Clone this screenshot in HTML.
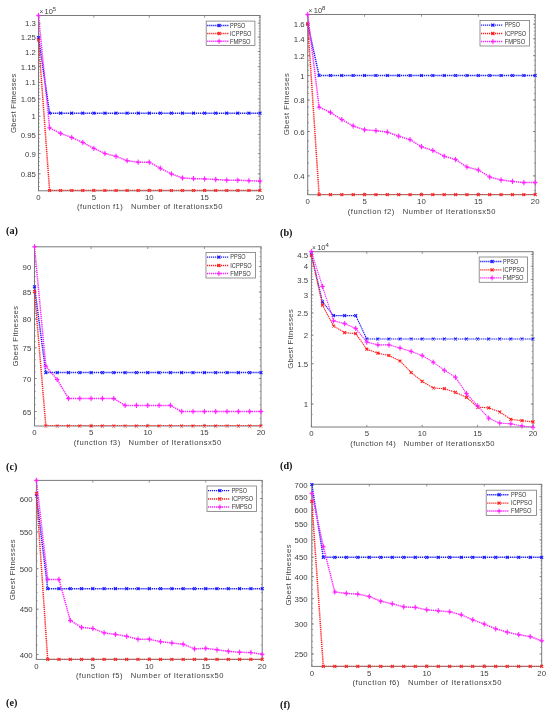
<!DOCTYPE html>
<html><head><meta charset="utf-8"><title>Figure</title>
<style>
html,body{margin:0;padding:0;background:#fff;}
body{width:550px;height:714px;overflow:hidden;}
svg{display:block;filter:blur(0.35px);}
text{font-family:"Liberation Sans",sans-serif;}
</style></head><body>
<svg width="550" height="714" viewBox="0 0 550 714">
<rect x="0" y="0" width="550" height="714" fill="#fff"/>
<clipPath id="c1"><rect x="38.50" y="15.50" width="221.50" height="175.30"/></clipPath>
<rect x="38.50" y="15.50" width="221.50" height="175.30" fill="none" stroke="#7a7a7a" stroke-width="1"/>
<line x1="38.50" y1="173.86" x2="40.70" y2="173.86" stroke="#7a7a7a" stroke-width="0.8" />
<line x1="260.00" y1="173.86" x2="257.80" y2="173.86" stroke="#7a7a7a" stroke-width="0.8" />
<text x="35.90" y="176.96" font-size="7.8" text-anchor="end" fill="#404040" >0.85</text>
<line x1="38.50" y1="153.58" x2="40.70" y2="153.58" stroke="#7a7a7a" stroke-width="0.8" />
<line x1="260.00" y1="153.58" x2="257.80" y2="153.58" stroke="#7a7a7a" stroke-width="0.8" />
<text x="35.90" y="156.68" font-size="7.8" text-anchor="end" fill="#404040" >0.9</text>
<line x1="38.50" y1="134.40" x2="40.70" y2="134.40" stroke="#7a7a7a" stroke-width="0.8" />
<line x1="260.00" y1="134.40" x2="257.80" y2="134.40" stroke="#7a7a7a" stroke-width="0.8" />
<text x="35.90" y="137.50" font-size="7.8" text-anchor="end" fill="#404040" >0.95</text>
<line x1="38.50" y1="116.20" x2="40.70" y2="116.20" stroke="#7a7a7a" stroke-width="0.8" />
<line x1="260.00" y1="116.20" x2="257.80" y2="116.20" stroke="#7a7a7a" stroke-width="0.8" />
<text x="35.90" y="119.30" font-size="7.8" text-anchor="end" fill="#404040" >1</text>
<line x1="38.50" y1="98.89" x2="40.70" y2="98.89" stroke="#7a7a7a" stroke-width="0.8" />
<line x1="260.00" y1="98.89" x2="257.80" y2="98.89" stroke="#7a7a7a" stroke-width="0.8" />
<text x="35.90" y="101.99" font-size="7.8" text-anchor="end" fill="#404040" >1.05</text>
<line x1="38.50" y1="82.38" x2="40.70" y2="82.38" stroke="#7a7a7a" stroke-width="0.8" />
<line x1="260.00" y1="82.38" x2="257.80" y2="82.38" stroke="#7a7a7a" stroke-width="0.8" />
<text x="35.90" y="85.48" font-size="7.8" text-anchor="end" fill="#404040" >1.1</text>
<line x1="38.50" y1="66.61" x2="40.70" y2="66.61" stroke="#7a7a7a" stroke-width="0.8" />
<line x1="260.00" y1="66.61" x2="257.80" y2="66.61" stroke="#7a7a7a" stroke-width="0.8" />
<text x="35.90" y="69.71" font-size="7.8" text-anchor="end" fill="#404040" >1.15</text>
<line x1="38.50" y1="51.51" x2="40.70" y2="51.51" stroke="#7a7a7a" stroke-width="0.8" />
<line x1="260.00" y1="51.51" x2="257.80" y2="51.51" stroke="#7a7a7a" stroke-width="0.8" />
<text x="35.90" y="54.61" font-size="7.8" text-anchor="end" fill="#404040" >1.2</text>
<line x1="38.50" y1="37.02" x2="40.70" y2="37.02" stroke="#7a7a7a" stroke-width="0.8" />
<line x1="260.00" y1="37.02" x2="257.80" y2="37.02" stroke="#7a7a7a" stroke-width="0.8" />
<text x="35.90" y="40.12" font-size="7.8" text-anchor="end" fill="#404040" >1.25</text>
<line x1="38.50" y1="23.11" x2="40.70" y2="23.11" stroke="#7a7a7a" stroke-width="0.8" />
<line x1="260.00" y1="23.11" x2="257.80" y2="23.11" stroke="#7a7a7a" stroke-width="0.8" />
<text x="35.90" y="26.21" font-size="7.8" text-anchor="end" fill="#404040" >1.3</text>
<line x1="38.50" y1="186.61" x2="39.80" y2="186.61" stroke="#7a7a7a" stroke-width="0.7" />
<line x1="260.00" y1="186.61" x2="258.70" y2="186.61" stroke="#7a7a7a" stroke-width="0.7" />
<line x1="38.50" y1="182.31" x2="39.80" y2="182.31" stroke="#7a7a7a" stroke-width="0.7" />
<line x1="260.00" y1="182.31" x2="258.70" y2="182.31" stroke="#7a7a7a" stroke-width="0.7" />
<line x1="38.50" y1="178.06" x2="39.80" y2="178.06" stroke="#7a7a7a" stroke-width="0.7" />
<line x1="260.00" y1="178.06" x2="258.70" y2="178.06" stroke="#7a7a7a" stroke-width="0.7" />
<line x1="38.50" y1="173.86" x2="39.80" y2="173.86" stroke="#7a7a7a" stroke-width="0.7" />
<line x1="260.00" y1="173.86" x2="258.70" y2="173.86" stroke="#7a7a7a" stroke-width="0.7" />
<line x1="38.50" y1="169.71" x2="39.80" y2="169.71" stroke="#7a7a7a" stroke-width="0.7" />
<line x1="260.00" y1="169.71" x2="258.70" y2="169.71" stroke="#7a7a7a" stroke-width="0.7" />
<line x1="38.50" y1="165.61" x2="39.80" y2="165.61" stroke="#7a7a7a" stroke-width="0.7" />
<line x1="260.00" y1="165.61" x2="258.70" y2="165.61" stroke="#7a7a7a" stroke-width="0.7" />
<line x1="38.50" y1="161.56" x2="39.80" y2="161.56" stroke="#7a7a7a" stroke-width="0.7" />
<line x1="260.00" y1="161.56" x2="258.70" y2="161.56" stroke="#7a7a7a" stroke-width="0.7" />
<line x1="38.50" y1="157.55" x2="39.80" y2="157.55" stroke="#7a7a7a" stroke-width="0.7" />
<line x1="260.00" y1="157.55" x2="258.70" y2="157.55" stroke="#7a7a7a" stroke-width="0.7" />
<line x1="38.50" y1="153.58" x2="39.80" y2="153.58" stroke="#7a7a7a" stroke-width="0.7" />
<line x1="260.00" y1="153.58" x2="258.70" y2="153.58" stroke="#7a7a7a" stroke-width="0.7" />
<line x1="38.50" y1="149.66" x2="39.80" y2="149.66" stroke="#7a7a7a" stroke-width="0.7" />
<line x1="260.00" y1="149.66" x2="258.70" y2="149.66" stroke="#7a7a7a" stroke-width="0.7" />
<line x1="38.50" y1="145.79" x2="39.80" y2="145.79" stroke="#7a7a7a" stroke-width="0.7" />
<line x1="260.00" y1="145.79" x2="258.70" y2="145.79" stroke="#7a7a7a" stroke-width="0.7" />
<line x1="38.50" y1="141.95" x2="39.80" y2="141.95" stroke="#7a7a7a" stroke-width="0.7" />
<line x1="260.00" y1="141.95" x2="258.70" y2="141.95" stroke="#7a7a7a" stroke-width="0.7" />
<line x1="38.50" y1="138.15" x2="39.80" y2="138.15" stroke="#7a7a7a" stroke-width="0.7" />
<line x1="260.00" y1="138.15" x2="258.70" y2="138.15" stroke="#7a7a7a" stroke-width="0.7" />
<line x1="38.50" y1="134.40" x2="39.80" y2="134.40" stroke="#7a7a7a" stroke-width="0.7" />
<line x1="260.00" y1="134.40" x2="258.70" y2="134.40" stroke="#7a7a7a" stroke-width="0.7" />
<line x1="38.50" y1="130.68" x2="39.80" y2="130.68" stroke="#7a7a7a" stroke-width="0.7" />
<line x1="260.00" y1="130.68" x2="258.70" y2="130.68" stroke="#7a7a7a" stroke-width="0.7" />
<line x1="38.50" y1="127.01" x2="39.80" y2="127.01" stroke="#7a7a7a" stroke-width="0.7" />
<line x1="260.00" y1="127.01" x2="258.70" y2="127.01" stroke="#7a7a7a" stroke-width="0.7" />
<line x1="38.50" y1="123.37" x2="39.80" y2="123.37" stroke="#7a7a7a" stroke-width="0.7" />
<line x1="260.00" y1="123.37" x2="258.70" y2="123.37" stroke="#7a7a7a" stroke-width="0.7" />
<line x1="38.50" y1="119.77" x2="39.80" y2="119.77" stroke="#7a7a7a" stroke-width="0.7" />
<line x1="260.00" y1="119.77" x2="258.70" y2="119.77" stroke="#7a7a7a" stroke-width="0.7" />
<line x1="38.50" y1="116.20" x2="39.80" y2="116.20" stroke="#7a7a7a" stroke-width="0.7" />
<line x1="260.00" y1="116.20" x2="258.70" y2="116.20" stroke="#7a7a7a" stroke-width="0.7" />
<line x1="38.50" y1="112.67" x2="39.80" y2="112.67" stroke="#7a7a7a" stroke-width="0.7" />
<line x1="260.00" y1="112.67" x2="258.70" y2="112.67" stroke="#7a7a7a" stroke-width="0.7" />
<line x1="38.50" y1="109.17" x2="39.80" y2="109.17" stroke="#7a7a7a" stroke-width="0.7" />
<line x1="260.00" y1="109.17" x2="258.70" y2="109.17" stroke="#7a7a7a" stroke-width="0.7" />
<line x1="38.50" y1="105.71" x2="39.80" y2="105.71" stroke="#7a7a7a" stroke-width="0.7" />
<line x1="260.00" y1="105.71" x2="258.70" y2="105.71" stroke="#7a7a7a" stroke-width="0.7" />
<line x1="38.50" y1="102.28" x2="39.80" y2="102.28" stroke="#7a7a7a" stroke-width="0.7" />
<line x1="260.00" y1="102.28" x2="258.70" y2="102.28" stroke="#7a7a7a" stroke-width="0.7" />
<line x1="38.50" y1="98.89" x2="39.80" y2="98.89" stroke="#7a7a7a" stroke-width="0.7" />
<line x1="260.00" y1="98.89" x2="258.70" y2="98.89" stroke="#7a7a7a" stroke-width="0.7" />
<line x1="38.50" y1="95.53" x2="39.80" y2="95.53" stroke="#7a7a7a" stroke-width="0.7" />
<line x1="260.00" y1="95.53" x2="258.70" y2="95.53" stroke="#7a7a7a" stroke-width="0.7" />
<line x1="38.50" y1="92.19" x2="39.80" y2="92.19" stroke="#7a7a7a" stroke-width="0.7" />
<line x1="260.00" y1="92.19" x2="258.70" y2="92.19" stroke="#7a7a7a" stroke-width="0.7" />
<line x1="38.50" y1="88.89" x2="39.80" y2="88.89" stroke="#7a7a7a" stroke-width="0.7" />
<line x1="260.00" y1="88.89" x2="258.70" y2="88.89" stroke="#7a7a7a" stroke-width="0.7" />
<line x1="38.50" y1="85.62" x2="39.80" y2="85.62" stroke="#7a7a7a" stroke-width="0.7" />
<line x1="260.00" y1="85.62" x2="258.70" y2="85.62" stroke="#7a7a7a" stroke-width="0.7" />
<line x1="38.50" y1="82.38" x2="39.80" y2="82.38" stroke="#7a7a7a" stroke-width="0.7" />
<line x1="260.00" y1="82.38" x2="258.70" y2="82.38" stroke="#7a7a7a" stroke-width="0.7" />
<line x1="38.50" y1="79.17" x2="39.80" y2="79.17" stroke="#7a7a7a" stroke-width="0.7" />
<line x1="260.00" y1="79.17" x2="258.70" y2="79.17" stroke="#7a7a7a" stroke-width="0.7" />
<line x1="38.50" y1="75.99" x2="39.80" y2="75.99" stroke="#7a7a7a" stroke-width="0.7" />
<line x1="260.00" y1="75.99" x2="258.70" y2="75.99" stroke="#7a7a7a" stroke-width="0.7" />
<line x1="38.50" y1="72.83" x2="39.80" y2="72.83" stroke="#7a7a7a" stroke-width="0.7" />
<line x1="260.00" y1="72.83" x2="258.70" y2="72.83" stroke="#7a7a7a" stroke-width="0.7" />
<line x1="38.50" y1="69.71" x2="39.80" y2="69.71" stroke="#7a7a7a" stroke-width="0.7" />
<line x1="260.00" y1="69.71" x2="258.70" y2="69.71" stroke="#7a7a7a" stroke-width="0.7" />
<line x1="38.50" y1="66.61" x2="39.80" y2="66.61" stroke="#7a7a7a" stroke-width="0.7" />
<line x1="260.00" y1="66.61" x2="258.70" y2="66.61" stroke="#7a7a7a" stroke-width="0.7" />
<line x1="38.50" y1="63.54" x2="39.80" y2="63.54" stroke="#7a7a7a" stroke-width="0.7" />
<line x1="260.00" y1="63.54" x2="258.70" y2="63.54" stroke="#7a7a7a" stroke-width="0.7" />
<line x1="38.50" y1="60.49" x2="39.80" y2="60.49" stroke="#7a7a7a" stroke-width="0.7" />
<line x1="260.00" y1="60.49" x2="258.70" y2="60.49" stroke="#7a7a7a" stroke-width="0.7" />
<line x1="38.50" y1="57.47" x2="39.80" y2="57.47" stroke="#7a7a7a" stroke-width="0.7" />
<line x1="260.00" y1="57.47" x2="258.70" y2="57.47" stroke="#7a7a7a" stroke-width="0.7" />
<line x1="38.50" y1="54.48" x2="39.80" y2="54.48" stroke="#7a7a7a" stroke-width="0.7" />
<line x1="260.00" y1="54.48" x2="258.70" y2="54.48" stroke="#7a7a7a" stroke-width="0.7" />
<line x1="38.50" y1="51.51" x2="39.80" y2="51.51" stroke="#7a7a7a" stroke-width="0.7" />
<line x1="260.00" y1="51.51" x2="258.70" y2="51.51" stroke="#7a7a7a" stroke-width="0.7" />
<line x1="38.50" y1="48.56" x2="39.80" y2="48.56" stroke="#7a7a7a" stroke-width="0.7" />
<line x1="260.00" y1="48.56" x2="258.70" y2="48.56" stroke="#7a7a7a" stroke-width="0.7" />
<line x1="38.50" y1="45.64" x2="39.80" y2="45.64" stroke="#7a7a7a" stroke-width="0.7" />
<line x1="260.00" y1="45.64" x2="258.70" y2="45.64" stroke="#7a7a7a" stroke-width="0.7" />
<line x1="38.50" y1="42.75" x2="39.80" y2="42.75" stroke="#7a7a7a" stroke-width="0.7" />
<line x1="260.00" y1="42.75" x2="258.70" y2="42.75" stroke="#7a7a7a" stroke-width="0.7" />
<line x1="38.50" y1="39.87" x2="39.80" y2="39.87" stroke="#7a7a7a" stroke-width="0.7" />
<line x1="260.00" y1="39.87" x2="258.70" y2="39.87" stroke="#7a7a7a" stroke-width="0.7" />
<line x1="38.50" y1="37.02" x2="39.80" y2="37.02" stroke="#7a7a7a" stroke-width="0.7" />
<line x1="260.00" y1="37.02" x2="258.70" y2="37.02" stroke="#7a7a7a" stroke-width="0.7" />
<line x1="38.50" y1="34.20" x2="39.80" y2="34.20" stroke="#7a7a7a" stroke-width="0.7" />
<line x1="260.00" y1="34.20" x2="258.70" y2="34.20" stroke="#7a7a7a" stroke-width="0.7" />
<line x1="38.50" y1="31.39" x2="39.80" y2="31.39" stroke="#7a7a7a" stroke-width="0.7" />
<line x1="260.00" y1="31.39" x2="258.70" y2="31.39" stroke="#7a7a7a" stroke-width="0.7" />
<line x1="38.50" y1="28.61" x2="39.80" y2="28.61" stroke="#7a7a7a" stroke-width="0.7" />
<line x1="260.00" y1="28.61" x2="258.70" y2="28.61" stroke="#7a7a7a" stroke-width="0.7" />
<line x1="38.50" y1="25.85" x2="39.80" y2="25.85" stroke="#7a7a7a" stroke-width="0.7" />
<line x1="260.00" y1="25.85" x2="258.70" y2="25.85" stroke="#7a7a7a" stroke-width="0.7" />
<line x1="38.50" y1="23.11" x2="39.80" y2="23.11" stroke="#7a7a7a" stroke-width="0.7" />
<line x1="260.00" y1="23.11" x2="258.70" y2="23.11" stroke="#7a7a7a" stroke-width="0.7" />
<line x1="38.50" y1="20.39" x2="39.80" y2="20.39" stroke="#7a7a7a" stroke-width="0.7" />
<line x1="260.00" y1="20.39" x2="258.70" y2="20.39" stroke="#7a7a7a" stroke-width="0.7" />
<line x1="38.50" y1="17.69" x2="39.80" y2="17.69" stroke="#7a7a7a" stroke-width="0.7" />
<line x1="260.00" y1="17.69" x2="258.70" y2="17.69" stroke="#7a7a7a" stroke-width="0.7" />
<line x1="38.50" y1="190.80" x2="38.50" y2="188.60" stroke="#7a7a7a" stroke-width="0.8" />
<line x1="38.50" y1="15.50" x2="38.50" y2="17.70" stroke="#7a7a7a" stroke-width="0.8" />
<text x="38.50" y="200.10" font-size="7.8" text-anchor="middle" fill="#404040" >0</text>
<line x1="93.88" y1="190.80" x2="93.88" y2="188.60" stroke="#7a7a7a" stroke-width="0.8" />
<line x1="93.88" y1="15.50" x2="93.88" y2="17.70" stroke="#7a7a7a" stroke-width="0.8" />
<text x="93.88" y="200.10" font-size="7.8" text-anchor="middle" fill="#404040" >5</text>
<line x1="149.25" y1="190.80" x2="149.25" y2="188.60" stroke="#7a7a7a" stroke-width="0.8" />
<line x1="149.25" y1="15.50" x2="149.25" y2="17.70" stroke="#7a7a7a" stroke-width="0.8" />
<text x="149.25" y="200.10" font-size="7.8" text-anchor="middle" fill="#404040" >10</text>
<line x1="204.62" y1="190.80" x2="204.62" y2="188.60" stroke="#7a7a7a" stroke-width="0.8" />
<line x1="204.62" y1="15.50" x2="204.62" y2="17.70" stroke="#7a7a7a" stroke-width="0.8" />
<text x="204.62" y="200.10" font-size="7.8" text-anchor="middle" fill="#404040" >15</text>
<line x1="260.00" y1="190.80" x2="260.00" y2="188.60" stroke="#7a7a7a" stroke-width="0.8" />
<line x1="260.00" y1="15.50" x2="260.00" y2="17.70" stroke="#7a7a7a" stroke-width="0.8" />
<text x="260.00" y="200.10" font-size="7.8" text-anchor="middle" fill="#404040" >20</text>
<path d="M38.50 37.60L49.58 113.20L60.65 113.20L71.72 113.20L82.80 113.20L93.88 113.20L104.95 113.20L116.03 113.20L127.10 113.20L138.18 113.20L149.25 113.20L160.32 113.20L171.40 113.20L182.47 113.20L193.55 113.20L204.62 113.20L215.70 113.20L226.78 113.20L237.85 113.20L248.93 113.20L260.00 113.20" stroke="#1a1aff" stroke-width="1.5" fill="none" stroke-dasharray="1.3 0.8" clip-path="url(#c1)"/>
<path d="M37.05 36.15L39.95 39.05M37.05 39.05L39.95 36.15" stroke="#1a1aff" stroke-width="1.1" fill="none"/>
<path d="M48.12 111.75L51.03 114.65M48.12 114.65L51.03 111.75" stroke="#1a1aff" stroke-width="1.1" fill="none"/>
<path d="M59.20 111.75L62.10 114.65M59.20 114.65L62.10 111.75" stroke="#1a1aff" stroke-width="1.1" fill="none"/>
<path d="M70.27 111.75L73.17 114.65M70.27 114.65L73.17 111.75" stroke="#1a1aff" stroke-width="1.1" fill="none"/>
<path d="M81.35 111.75L84.25 114.65M81.35 114.65L84.25 111.75" stroke="#1a1aff" stroke-width="1.1" fill="none"/>
<path d="M92.42 111.75L95.33 114.65M92.42 114.65L95.33 111.75" stroke="#1a1aff" stroke-width="1.1" fill="none"/>
<path d="M103.50 111.75L106.40 114.65M103.50 114.65L106.40 111.75" stroke="#1a1aff" stroke-width="1.1" fill="none"/>
<path d="M114.58 111.75L117.48 114.65M114.58 114.65L117.48 111.75" stroke="#1a1aff" stroke-width="1.1" fill="none"/>
<path d="M125.65 111.75L128.55 114.65M125.65 114.65L128.55 111.75" stroke="#1a1aff" stroke-width="1.1" fill="none"/>
<path d="M136.73 111.75L139.62 114.65M136.73 114.65L139.62 111.75" stroke="#1a1aff" stroke-width="1.1" fill="none"/>
<path d="M147.80 111.75L150.70 114.65M147.80 114.65L150.70 111.75" stroke="#1a1aff" stroke-width="1.1" fill="none"/>
<path d="M158.88 111.75L161.77 114.65M158.88 114.65L161.77 111.75" stroke="#1a1aff" stroke-width="1.1" fill="none"/>
<path d="M169.95 111.75L172.85 114.65M169.95 114.65L172.85 111.75" stroke="#1a1aff" stroke-width="1.1" fill="none"/>
<path d="M181.03 111.75L183.92 114.65M181.03 114.65L183.92 111.75" stroke="#1a1aff" stroke-width="1.1" fill="none"/>
<path d="M192.10 111.75L195.00 114.65M192.10 114.65L195.00 111.75" stroke="#1a1aff" stroke-width="1.1" fill="none"/>
<path d="M203.18 111.75L206.07 114.65M203.18 114.65L206.07 111.75" stroke="#1a1aff" stroke-width="1.1" fill="none"/>
<path d="M214.25 111.75L217.15 114.65M214.25 114.65L217.15 111.75" stroke="#1a1aff" stroke-width="1.1" fill="none"/>
<path d="M225.33 111.75L228.22 114.65M225.33 114.65L228.22 111.75" stroke="#1a1aff" stroke-width="1.1" fill="none"/>
<path d="M236.40 111.75L239.30 114.65M236.40 114.65L239.30 111.75" stroke="#1a1aff" stroke-width="1.1" fill="none"/>
<path d="M247.48 111.75L250.38 114.65M247.48 114.65L250.38 111.75" stroke="#1a1aff" stroke-width="1.1" fill="none"/>
<path d="M258.55 111.75L261.45 114.65M258.55 114.65L261.45 111.75" stroke="#1a1aff" stroke-width="1.1" fill="none"/>
<path d="M38.50 40.00L49.58 190.50L60.65 190.50L71.72 190.50L82.80 190.50L93.88 190.50L104.95 190.50L116.03 190.50L127.10 190.50L138.18 190.50L149.25 190.50L160.32 190.50L171.40 190.50L182.47 190.50L193.55 190.50L204.62 190.50L215.70 190.50L226.78 190.50L237.85 190.50L248.93 190.50L260.00 190.50" stroke="#ff2020" stroke-width="1.5" fill="none" stroke-dasharray="1.3 0.8" clip-path="url(#c1)"/>
<path d="M37.05 38.55L39.95 41.45M37.05 41.45L39.95 38.55" stroke="#ff2020" stroke-width="1.1" fill="none"/>
<path d="M48.12 189.05L51.03 191.95M48.12 191.95L51.03 189.05" stroke="#ff2020" stroke-width="1.1" fill="none"/>
<path d="M59.20 189.05L62.10 191.95M59.20 191.95L62.10 189.05" stroke="#ff2020" stroke-width="1.1" fill="none"/>
<path d="M70.27 189.05L73.17 191.95M70.27 191.95L73.17 189.05" stroke="#ff2020" stroke-width="1.1" fill="none"/>
<path d="M81.35 189.05L84.25 191.95M81.35 191.95L84.25 189.05" stroke="#ff2020" stroke-width="1.1" fill="none"/>
<path d="M92.42 189.05L95.33 191.95M92.42 191.95L95.33 189.05" stroke="#ff2020" stroke-width="1.1" fill="none"/>
<path d="M103.50 189.05L106.40 191.95M103.50 191.95L106.40 189.05" stroke="#ff2020" stroke-width="1.1" fill="none"/>
<path d="M114.58 189.05L117.48 191.95M114.58 191.95L117.48 189.05" stroke="#ff2020" stroke-width="1.1" fill="none"/>
<path d="M125.65 189.05L128.55 191.95M125.65 191.95L128.55 189.05" stroke="#ff2020" stroke-width="1.1" fill="none"/>
<path d="M136.73 189.05L139.62 191.95M136.73 191.95L139.62 189.05" stroke="#ff2020" stroke-width="1.1" fill="none"/>
<path d="M147.80 189.05L150.70 191.95M147.80 191.95L150.70 189.05" stroke="#ff2020" stroke-width="1.1" fill="none"/>
<path d="M158.88 189.05L161.77 191.95M158.88 191.95L161.77 189.05" stroke="#ff2020" stroke-width="1.1" fill="none"/>
<path d="M169.95 189.05L172.85 191.95M169.95 191.95L172.85 189.05" stroke="#ff2020" stroke-width="1.1" fill="none"/>
<path d="M181.03 189.05L183.92 191.95M181.03 191.95L183.92 189.05" stroke="#ff2020" stroke-width="1.1" fill="none"/>
<path d="M192.10 189.05L195.00 191.95M192.10 191.95L195.00 189.05" stroke="#ff2020" stroke-width="1.1" fill="none"/>
<path d="M203.18 189.05L206.07 191.95M203.18 191.95L206.07 189.05" stroke="#ff2020" stroke-width="1.1" fill="none"/>
<path d="M214.25 189.05L217.15 191.95M214.25 191.95L217.15 189.05" stroke="#ff2020" stroke-width="1.1" fill="none"/>
<path d="M225.33 189.05L228.22 191.95M225.33 191.95L228.22 189.05" stroke="#ff2020" stroke-width="1.1" fill="none"/>
<path d="M236.40 189.05L239.30 191.95M236.40 191.95L239.30 189.05" stroke="#ff2020" stroke-width="1.1" fill="none"/>
<path d="M247.48 189.05L250.38 191.95M247.48 191.95L250.38 189.05" stroke="#ff2020" stroke-width="1.1" fill="none"/>
<path d="M258.55 189.05L261.45 191.95M258.55 191.95L261.45 189.05" stroke="#ff2020" stroke-width="1.1" fill="none"/>
<path d="M38.50 15.60L49.58 127.90L60.65 133.40L71.72 137.50L82.80 142.50L93.88 148.40L104.95 153.50L116.03 156.30L127.10 160.70L138.18 162.20L149.25 162.20L160.32 168.20L171.40 173.90L182.47 178.00L193.55 178.60L204.62 178.90L215.70 179.50L226.78 180.20L237.85 180.20L248.93 180.70L260.00 181.10" stroke="#ff20ff" stroke-width="1.5" fill="none" stroke-dasharray="1.3 0.8" clip-path="url(#c1)"/>
<path d="M36.20 15.60H40.80M38.50 12.96V18.24" stroke="#ff20ff" stroke-width="1.0" fill="none"/>
<path d="M37.47 14.56L39.53 16.63M37.47 16.63L39.53 14.56" stroke="#ff20ff" stroke-width="0.8" fill="none"/>
<path d="M47.28 127.90H51.88M49.58 125.26V130.55" stroke="#ff20ff" stroke-width="1.0" fill="none"/>
<path d="M48.54 126.87L50.61 128.94M48.54 128.94L50.61 126.87" stroke="#ff20ff" stroke-width="0.8" fill="none"/>
<path d="M58.35 133.40H62.95M60.65 130.75V136.05" stroke="#ff20ff" stroke-width="1.0" fill="none"/>
<path d="M59.62 132.37L61.68 134.44M59.62 134.44L61.68 132.37" stroke="#ff20ff" stroke-width="0.8" fill="none"/>
<path d="M69.42 137.50H74.02M71.72 134.85V140.15" stroke="#ff20ff" stroke-width="1.0" fill="none"/>
<path d="M70.69 136.47L72.76 138.53M70.69 138.53L72.76 136.47" stroke="#ff20ff" stroke-width="0.8" fill="none"/>
<path d="M80.50 142.50H85.10M82.80 139.85V145.15" stroke="#ff20ff" stroke-width="1.0" fill="none"/>
<path d="M81.77 141.47L83.83 143.53M81.77 143.53L83.83 141.47" stroke="#ff20ff" stroke-width="0.8" fill="none"/>
<path d="M91.58 148.40H96.17M93.88 145.75V151.05" stroke="#ff20ff" stroke-width="1.0" fill="none"/>
<path d="M92.84 147.37L94.91 149.44M92.84 149.44L94.91 147.37" stroke="#ff20ff" stroke-width="0.8" fill="none"/>
<path d="M102.65 153.50H107.25M104.95 150.85V156.15" stroke="#ff20ff" stroke-width="1.0" fill="none"/>
<path d="M103.92 152.47L105.98 154.53M103.92 154.53L105.98 152.47" stroke="#ff20ff" stroke-width="0.8" fill="none"/>
<path d="M113.73 156.30H118.33M116.03 153.66V158.95" stroke="#ff20ff" stroke-width="1.0" fill="none"/>
<path d="M114.99 155.27L117.06 157.34M114.99 157.34L117.06 155.27" stroke="#ff20ff" stroke-width="0.8" fill="none"/>
<path d="M124.80 160.70H129.40M127.10 158.05V163.34" stroke="#ff20ff" stroke-width="1.0" fill="none"/>
<path d="M126.06 159.66L128.13 161.73M126.06 161.73L128.13 159.66" stroke="#ff20ff" stroke-width="0.8" fill="none"/>
<path d="M135.88 162.20H140.48M138.18 159.55V164.84" stroke="#ff20ff" stroke-width="1.0" fill="none"/>
<path d="M137.14 161.16L139.21 163.23M137.14 163.23L139.21 161.16" stroke="#ff20ff" stroke-width="0.8" fill="none"/>
<path d="M146.95 162.20H151.55M149.25 159.55V164.84" stroke="#ff20ff" stroke-width="1.0" fill="none"/>
<path d="M148.22 161.16L150.28 163.23M148.22 163.23L150.28 161.16" stroke="#ff20ff" stroke-width="0.8" fill="none"/>
<path d="M158.02 168.20H162.62M160.32 165.55V170.84" stroke="#ff20ff" stroke-width="1.0" fill="none"/>
<path d="M159.29 167.16L161.36 169.23M159.29 169.23L161.36 167.16" stroke="#ff20ff" stroke-width="0.8" fill="none"/>
<path d="M169.10 173.90H173.70M171.40 171.25V176.55" stroke="#ff20ff" stroke-width="1.0" fill="none"/>
<path d="M170.37 172.87L172.44 174.94M170.37 174.94L172.44 172.87" stroke="#ff20ff" stroke-width="0.8" fill="none"/>
<path d="M180.17 178.00H184.78M182.47 175.35V180.65" stroke="#ff20ff" stroke-width="1.0" fill="none"/>
<path d="M181.44 176.97L183.51 179.03M181.44 179.03L183.51 176.97" stroke="#ff20ff" stroke-width="0.8" fill="none"/>
<path d="M191.25 178.60H195.85M193.55 175.95V181.25" stroke="#ff20ff" stroke-width="1.0" fill="none"/>
<path d="M192.52 177.56L194.59 179.63M192.52 179.63L194.59 177.56" stroke="#ff20ff" stroke-width="0.8" fill="none"/>
<path d="M202.32 178.90H206.93M204.62 176.25V181.55" stroke="#ff20ff" stroke-width="1.0" fill="none"/>
<path d="M203.59 177.87L205.66 179.94M203.59 179.94L205.66 177.87" stroke="#ff20ff" stroke-width="0.8" fill="none"/>
<path d="M213.40 179.50H218.00M215.70 176.85V182.15" stroke="#ff20ff" stroke-width="1.0" fill="none"/>
<path d="M214.66 178.47L216.73 180.53M214.66 180.53L216.73 178.47" stroke="#ff20ff" stroke-width="0.8" fill="none"/>
<path d="M224.47 180.20H229.08M226.78 177.55V182.84" stroke="#ff20ff" stroke-width="1.0" fill="none"/>
<path d="M225.74 179.16L227.81 181.23M225.74 181.23L227.81 179.16" stroke="#ff20ff" stroke-width="0.8" fill="none"/>
<path d="M235.55 180.20H240.15M237.85 177.55V182.84" stroke="#ff20ff" stroke-width="1.0" fill="none"/>
<path d="M236.81 179.16L238.88 181.23M236.81 181.23L238.88 179.16" stroke="#ff20ff" stroke-width="0.8" fill="none"/>
<path d="M246.62 180.70H251.23M248.93 178.05V183.34" stroke="#ff20ff" stroke-width="1.0" fill="none"/>
<path d="M247.89 179.66L249.96 181.73M247.89 181.73L249.96 179.66" stroke="#ff20ff" stroke-width="0.8" fill="none"/>
<path d="M257.70 181.10H262.30M260.00 178.45V183.75" stroke="#ff20ff" stroke-width="1.0" fill="none"/>
<path d="M258.96 180.06L261.04 182.13M258.96 182.13L261.04 180.06" stroke="#ff20ff" stroke-width="0.8" fill="none"/>
<rect x="206.20" y="21.10" width="48.70" height="24.40" fill="#fff" stroke="#7a7a7a" stroke-width="0.8"/>
<line x1="207.20" y1="25.49" x2="229.20" y2="25.49" stroke="#1a1aff" stroke-width="1.4" stroke-dasharray="1.2 0.8"/>
<path d="M217.60 23.99L220.60 26.99M217.60 26.99L220.60 23.99" stroke="#1a1aff" stroke-width="1.3" fill="none"/>
<text x="230.00" y="27.79" font-size="6.3" text-anchor="start" fill="#333" textLength="15.3" lengthAdjust="spacingAndGlyphs">PPSO</text>
<line x1="207.20" y1="33.54" x2="229.20" y2="33.54" stroke="#ff2020" stroke-width="1.4" stroke-dasharray="1.2 0.8"/>
<path d="M217.60 32.04L220.60 35.04M217.60 35.04L220.60 32.04" stroke="#ff2020" stroke-width="1.3" fill="none"/>
<text x="230.00" y="35.84" font-size="6.3" text-anchor="start" fill="#333" textLength="21.4" lengthAdjust="spacingAndGlyphs">ICPPSO</text>
<line x1="207.20" y1="41.23" x2="229.20" y2="41.23" stroke="#ff20ff" stroke-width="1.4" stroke-dasharray="1.2 0.8"/>
<path d="M216.90 41.23H221.30M219.10 38.70V43.76" stroke="#ff20ff" stroke-width="1.0" fill="none"/>
<path d="M218.11 40.24L220.09 42.22M218.11 42.22L220.09 40.24" stroke="#ff20ff" stroke-width="0.8" fill="none"/>
<text x="230.00" y="43.53" font-size="6.3" text-anchor="start" fill="#333" textLength="20.5" lengthAdjust="spacingAndGlyphs">FMPSO</text>
<text x="77.00" y="209.10" font-size="7.6" text-anchor="start" fill="#404040" textLength="145.4" lengthAdjust="spacing">(function f1)&#160;&#160;&#160;Number of Iterationsx50</text>
<text transform="translate(15.90,103.40) rotate(-90)" font-size="7.7" text-anchor="middle" fill="#404040" textLength="59.3" lengthAdjust="spacing">Gbest Fitnesses</text>
<text x="39.40" y="14.00" font-size="7.5" text-anchor="start" fill="#404040" ><tspan font-size="6.5">&#215;</tspan><tspan dx="1.4">10</tspan><tspan font-size="6" dy="-3.5" dx="-0.1">5</tspan></text>
<text x="6.00" y="234.45" style="font-family:&quot;Liberation Serif&quot;,serif;font-weight:bold" font-size="10.2" fill="#111">(a)</text>
<clipPath id="c2"><rect x="307.70" y="14.50" width="227.50" height="180.20"/></clipPath>
<rect x="307.70" y="14.50" width="227.50" height="180.20" fill="none" stroke="#7a7a7a" stroke-width="1"/>
<line x1="307.70" y1="175.88" x2="309.90" y2="175.88" stroke="#7a7a7a" stroke-width="0.8" />
<line x1="535.20" y1="175.88" x2="533.00" y2="175.88" stroke="#7a7a7a" stroke-width="0.8" />
<text x="304.70" y="178.98" font-size="7.8" text-anchor="end" fill="#404040" >0.4</text>
<line x1="307.70" y1="131.51" x2="309.90" y2="131.51" stroke="#7a7a7a" stroke-width="0.8" />
<line x1="535.20" y1="131.51" x2="533.00" y2="131.51" stroke="#7a7a7a" stroke-width="0.8" />
<text x="304.70" y="134.61" font-size="7.8" text-anchor="end" fill="#404040" >0.6</text>
<line x1="307.70" y1="100.02" x2="309.90" y2="100.02" stroke="#7a7a7a" stroke-width="0.8" />
<line x1="535.20" y1="100.02" x2="533.00" y2="100.02" stroke="#7a7a7a" stroke-width="0.8" />
<text x="304.70" y="103.12" font-size="7.8" text-anchor="end" fill="#404040" >0.8</text>
<line x1="307.70" y1="75.60" x2="309.90" y2="75.60" stroke="#7a7a7a" stroke-width="0.8" />
<line x1="535.20" y1="75.60" x2="533.00" y2="75.60" stroke="#7a7a7a" stroke-width="0.8" />
<text x="304.70" y="78.70" font-size="7.8" text-anchor="end" fill="#404040" >1</text>
<line x1="307.70" y1="55.65" x2="309.90" y2="55.65" stroke="#7a7a7a" stroke-width="0.8" />
<line x1="535.20" y1="55.65" x2="533.00" y2="55.65" stroke="#7a7a7a" stroke-width="0.8" />
<text x="304.70" y="58.75" font-size="7.8" text-anchor="end" fill="#404040" >1.2</text>
<line x1="307.70" y1="38.78" x2="309.90" y2="38.78" stroke="#7a7a7a" stroke-width="0.8" />
<line x1="535.20" y1="38.78" x2="533.00" y2="38.78" stroke="#7a7a7a" stroke-width="0.8" />
<text x="304.70" y="41.88" font-size="7.8" text-anchor="end" fill="#404040" >1.4</text>
<line x1="307.70" y1="24.16" x2="309.90" y2="24.16" stroke="#7a7a7a" stroke-width="0.8" />
<line x1="535.20" y1="24.16" x2="533.00" y2="24.16" stroke="#7a7a7a" stroke-width="0.8" />
<text x="304.70" y="27.26" font-size="7.8" text-anchor="end" fill="#404040" >1.6</text>
<line x1="307.70" y1="190.49" x2="309.00" y2="190.49" stroke="#7a7a7a" stroke-width="0.7" />
<line x1="535.20" y1="190.49" x2="533.90" y2="190.49" stroke="#7a7a7a" stroke-width="0.7" />
<line x1="307.70" y1="175.88" x2="309.00" y2="175.88" stroke="#7a7a7a" stroke-width="0.7" />
<line x1="535.20" y1="175.88" x2="533.90" y2="175.88" stroke="#7a7a7a" stroke-width="0.7" />
<line x1="307.70" y1="162.99" x2="309.00" y2="162.99" stroke="#7a7a7a" stroke-width="0.7" />
<line x1="535.20" y1="162.99" x2="533.90" y2="162.99" stroke="#7a7a7a" stroke-width="0.7" />
<line x1="307.70" y1="151.46" x2="309.00" y2="151.46" stroke="#7a7a7a" stroke-width="0.7" />
<line x1="535.20" y1="151.46" x2="533.90" y2="151.46" stroke="#7a7a7a" stroke-width="0.7" />
<line x1="307.70" y1="141.03" x2="309.00" y2="141.03" stroke="#7a7a7a" stroke-width="0.7" />
<line x1="535.20" y1="141.03" x2="533.90" y2="141.03" stroke="#7a7a7a" stroke-width="0.7" />
<line x1="307.70" y1="131.51" x2="309.00" y2="131.51" stroke="#7a7a7a" stroke-width="0.7" />
<line x1="535.20" y1="131.51" x2="533.90" y2="131.51" stroke="#7a7a7a" stroke-width="0.7" />
<line x1="307.70" y1="122.75" x2="309.00" y2="122.75" stroke="#7a7a7a" stroke-width="0.7" />
<line x1="535.20" y1="122.75" x2="533.90" y2="122.75" stroke="#7a7a7a" stroke-width="0.7" />
<line x1="307.70" y1="114.64" x2="309.00" y2="114.64" stroke="#7a7a7a" stroke-width="0.7" />
<line x1="535.20" y1="114.64" x2="533.90" y2="114.64" stroke="#7a7a7a" stroke-width="0.7" />
<line x1="307.70" y1="107.08" x2="309.00" y2="107.08" stroke="#7a7a7a" stroke-width="0.7" />
<line x1="535.20" y1="107.08" x2="533.90" y2="107.08" stroke="#7a7a7a" stroke-width="0.7" />
<line x1="307.70" y1="100.02" x2="309.00" y2="100.02" stroke="#7a7a7a" stroke-width="0.7" />
<line x1="535.20" y1="100.02" x2="533.90" y2="100.02" stroke="#7a7a7a" stroke-width="0.7" />
<line x1="307.70" y1="93.39" x2="309.00" y2="93.39" stroke="#7a7a7a" stroke-width="0.7" />
<line x1="535.20" y1="93.39" x2="533.90" y2="93.39" stroke="#7a7a7a" stroke-width="0.7" />
<line x1="307.70" y1="87.13" x2="309.00" y2="87.13" stroke="#7a7a7a" stroke-width="0.7" />
<line x1="535.20" y1="87.13" x2="533.90" y2="87.13" stroke="#7a7a7a" stroke-width="0.7" />
<line x1="307.70" y1="81.21" x2="309.00" y2="81.21" stroke="#7a7a7a" stroke-width="0.7" />
<line x1="535.20" y1="81.21" x2="533.90" y2="81.21" stroke="#7a7a7a" stroke-width="0.7" />
<line x1="307.70" y1="75.60" x2="309.00" y2="75.60" stroke="#7a7a7a" stroke-width="0.7" />
<line x1="535.20" y1="75.60" x2="533.90" y2="75.60" stroke="#7a7a7a" stroke-width="0.7" />
<line x1="307.70" y1="70.26" x2="309.00" y2="70.26" stroke="#7a7a7a" stroke-width="0.7" />
<line x1="535.20" y1="70.26" x2="533.90" y2="70.26" stroke="#7a7a7a" stroke-width="0.7" />
<line x1="307.70" y1="65.17" x2="309.00" y2="65.17" stroke="#7a7a7a" stroke-width="0.7" />
<line x1="535.20" y1="65.17" x2="533.90" y2="65.17" stroke="#7a7a7a" stroke-width="0.7" />
<line x1="307.70" y1="60.30" x2="309.00" y2="60.30" stroke="#7a7a7a" stroke-width="0.7" />
<line x1="535.20" y1="60.30" x2="533.90" y2="60.30" stroke="#7a7a7a" stroke-width="0.7" />
<line x1="307.70" y1="55.65" x2="309.00" y2="55.65" stroke="#7a7a7a" stroke-width="0.7" />
<line x1="535.20" y1="55.65" x2="533.90" y2="55.65" stroke="#7a7a7a" stroke-width="0.7" />
<line x1="307.70" y1="51.18" x2="309.00" y2="51.18" stroke="#7a7a7a" stroke-width="0.7" />
<line x1="535.20" y1="51.18" x2="533.90" y2="51.18" stroke="#7a7a7a" stroke-width="0.7" />
<line x1="307.70" y1="46.89" x2="309.00" y2="46.89" stroke="#7a7a7a" stroke-width="0.7" />
<line x1="535.20" y1="46.89" x2="533.90" y2="46.89" stroke="#7a7a7a" stroke-width="0.7" />
<line x1="307.70" y1="42.76" x2="309.00" y2="42.76" stroke="#7a7a7a" stroke-width="0.7" />
<line x1="535.20" y1="42.76" x2="533.90" y2="42.76" stroke="#7a7a7a" stroke-width="0.7" />
<line x1="307.70" y1="38.78" x2="309.00" y2="38.78" stroke="#7a7a7a" stroke-width="0.7" />
<line x1="535.20" y1="38.78" x2="533.90" y2="38.78" stroke="#7a7a7a" stroke-width="0.7" />
<line x1="307.70" y1="34.94" x2="309.00" y2="34.94" stroke="#7a7a7a" stroke-width="0.7" />
<line x1="535.20" y1="34.94" x2="533.90" y2="34.94" stroke="#7a7a7a" stroke-width="0.7" />
<line x1="307.70" y1="31.23" x2="309.00" y2="31.23" stroke="#7a7a7a" stroke-width="0.7" />
<line x1="535.20" y1="31.23" x2="533.90" y2="31.23" stroke="#7a7a7a" stroke-width="0.7" />
<line x1="307.70" y1="27.64" x2="309.00" y2="27.64" stroke="#7a7a7a" stroke-width="0.7" />
<line x1="535.20" y1="27.64" x2="533.90" y2="27.64" stroke="#7a7a7a" stroke-width="0.7" />
<line x1="307.70" y1="24.16" x2="309.00" y2="24.16" stroke="#7a7a7a" stroke-width="0.7" />
<line x1="535.20" y1="24.16" x2="533.90" y2="24.16" stroke="#7a7a7a" stroke-width="0.7" />
<line x1="307.70" y1="20.79" x2="309.00" y2="20.79" stroke="#7a7a7a" stroke-width="0.7" />
<line x1="535.20" y1="20.79" x2="533.90" y2="20.79" stroke="#7a7a7a" stroke-width="0.7" />
<line x1="307.70" y1="17.53" x2="309.00" y2="17.53" stroke="#7a7a7a" stroke-width="0.7" />
<line x1="535.20" y1="17.53" x2="533.90" y2="17.53" stroke="#7a7a7a" stroke-width="0.7" />
<line x1="307.70" y1="194.70" x2="307.70" y2="192.50" stroke="#7a7a7a" stroke-width="0.8" />
<line x1="307.70" y1="14.50" x2="307.70" y2="16.70" stroke="#7a7a7a" stroke-width="0.8" />
<text x="307.70" y="204.00" font-size="7.8" text-anchor="middle" fill="#404040" >0</text>
<line x1="364.57" y1="194.70" x2="364.57" y2="192.50" stroke="#7a7a7a" stroke-width="0.8" />
<line x1="364.57" y1="14.50" x2="364.57" y2="16.70" stroke="#7a7a7a" stroke-width="0.8" />
<text x="364.57" y="204.00" font-size="7.8" text-anchor="middle" fill="#404040" >5</text>
<line x1="421.45" y1="194.70" x2="421.45" y2="192.50" stroke="#7a7a7a" stroke-width="0.8" />
<line x1="421.45" y1="14.50" x2="421.45" y2="16.70" stroke="#7a7a7a" stroke-width="0.8" />
<text x="421.45" y="204.00" font-size="7.8" text-anchor="middle" fill="#404040" >10</text>
<line x1="478.33" y1="194.70" x2="478.33" y2="192.50" stroke="#7a7a7a" stroke-width="0.8" />
<line x1="478.33" y1="14.50" x2="478.33" y2="16.70" stroke="#7a7a7a" stroke-width="0.8" />
<text x="478.33" y="204.00" font-size="7.8" text-anchor="middle" fill="#404040" >15</text>
<line x1="535.20" y1="194.70" x2="535.20" y2="192.50" stroke="#7a7a7a" stroke-width="0.8" />
<line x1="535.20" y1="14.50" x2="535.20" y2="16.70" stroke="#7a7a7a" stroke-width="0.8" />
<text x="535.20" y="204.00" font-size="7.8" text-anchor="middle" fill="#404040" >20</text>
<path d="M307.70 24.00L319.07 75.50L330.45 75.50L341.82 75.50L353.20 75.50L364.57 75.50L375.95 75.50L387.33 75.50L398.70 75.50L410.08 75.50L421.45 75.50L432.83 75.50L444.20 75.50L455.58 75.50L466.95 75.50L478.33 75.50L489.70 75.50L501.08 75.50L512.45 75.50L523.83 75.50L535.20 75.50" stroke="#1a1aff" stroke-width="1.5" fill="none" stroke-dasharray="1.3 0.8" clip-path="url(#c2)"/>
<path d="M306.25 22.55L309.15 25.45M306.25 25.45L309.15 22.55" stroke="#1a1aff" stroke-width="1.1" fill="none"/>
<path d="M317.62 74.05L320.52 76.95M317.62 76.95L320.52 74.05" stroke="#1a1aff" stroke-width="1.1" fill="none"/>
<path d="M329.00 74.05L331.90 76.95M329.00 76.95L331.90 74.05" stroke="#1a1aff" stroke-width="1.1" fill="none"/>
<path d="M340.38 74.05L343.27 76.95M340.38 76.95L343.27 74.05" stroke="#1a1aff" stroke-width="1.1" fill="none"/>
<path d="M351.75 74.05L354.65 76.95M351.75 76.95L354.65 74.05" stroke="#1a1aff" stroke-width="1.1" fill="none"/>
<path d="M363.12 74.05L366.02 76.95M363.12 76.95L366.02 74.05" stroke="#1a1aff" stroke-width="1.1" fill="none"/>
<path d="M374.50 74.05L377.40 76.95M374.50 76.95L377.40 74.05" stroke="#1a1aff" stroke-width="1.1" fill="none"/>
<path d="M385.88 74.05L388.78 76.95M385.88 76.95L388.78 74.05" stroke="#1a1aff" stroke-width="1.1" fill="none"/>
<path d="M397.25 74.05L400.15 76.95M397.25 76.95L400.15 74.05" stroke="#1a1aff" stroke-width="1.1" fill="none"/>
<path d="M408.63 74.05L411.53 76.95M408.63 76.95L411.53 74.05" stroke="#1a1aff" stroke-width="1.1" fill="none"/>
<path d="M420.00 74.05L422.90 76.95M420.00 76.95L422.90 74.05" stroke="#1a1aff" stroke-width="1.1" fill="none"/>
<path d="M431.38 74.05L434.28 76.95M431.38 76.95L434.28 74.05" stroke="#1a1aff" stroke-width="1.1" fill="none"/>
<path d="M442.75 74.05L445.65 76.95M442.75 76.95L445.65 74.05" stroke="#1a1aff" stroke-width="1.1" fill="none"/>
<path d="M454.13 74.05L457.03 76.95M454.13 76.95L457.03 74.05" stroke="#1a1aff" stroke-width="1.1" fill="none"/>
<path d="M465.50 74.05L468.40 76.95M465.50 76.95L468.40 74.05" stroke="#1a1aff" stroke-width="1.1" fill="none"/>
<path d="M476.88 74.05L479.78 76.95M476.88 76.95L479.78 74.05" stroke="#1a1aff" stroke-width="1.1" fill="none"/>
<path d="M488.25 74.05L491.15 76.95M488.25 76.95L491.15 74.05" stroke="#1a1aff" stroke-width="1.1" fill="none"/>
<path d="M499.63 74.05L502.53 76.95M499.63 76.95L502.53 74.05" stroke="#1a1aff" stroke-width="1.1" fill="none"/>
<path d="M511.00 74.05L513.90 76.95M511.00 76.95L513.90 74.05" stroke="#1a1aff" stroke-width="1.1" fill="none"/>
<path d="M522.38 74.05L525.28 76.95M522.38 76.95L525.28 74.05" stroke="#1a1aff" stroke-width="1.1" fill="none"/>
<path d="M533.75 74.05L536.65 76.95M533.75 76.95L536.65 74.05" stroke="#1a1aff" stroke-width="1.1" fill="none"/>
<path d="M307.70 24.00L319.07 194.70L330.45 194.70L341.82 194.70L353.20 194.70L364.57 194.70L375.95 194.70L387.33 194.70L398.70 194.70L410.08 194.70L421.45 194.70L432.83 194.70L444.20 194.70L455.58 194.70L466.95 194.70L478.33 194.70L489.70 194.70L501.08 194.70L512.45 194.70L523.83 194.70L535.20 194.70" stroke="#ff2020" stroke-width="1.5" fill="none" stroke-dasharray="1.3 0.8" clip-path="url(#c2)"/>
<path d="M306.25 22.55L309.15 25.45M306.25 25.45L309.15 22.55" stroke="#ff2020" stroke-width="1.1" fill="none"/>
<path d="M317.62 193.25L320.52 196.15M317.62 196.15L320.52 193.25" stroke="#ff2020" stroke-width="1.1" fill="none"/>
<path d="M329.00 193.25L331.90 196.15M329.00 196.15L331.90 193.25" stroke="#ff2020" stroke-width="1.1" fill="none"/>
<path d="M340.38 193.25L343.27 196.15M340.38 196.15L343.27 193.25" stroke="#ff2020" stroke-width="1.1" fill="none"/>
<path d="M351.75 193.25L354.65 196.15M351.75 196.15L354.65 193.25" stroke="#ff2020" stroke-width="1.1" fill="none"/>
<path d="M363.12 193.25L366.02 196.15M363.12 196.15L366.02 193.25" stroke="#ff2020" stroke-width="1.1" fill="none"/>
<path d="M374.50 193.25L377.40 196.15M374.50 196.15L377.40 193.25" stroke="#ff2020" stroke-width="1.1" fill="none"/>
<path d="M385.88 193.25L388.78 196.15M385.88 196.15L388.78 193.25" stroke="#ff2020" stroke-width="1.1" fill="none"/>
<path d="M397.25 193.25L400.15 196.15M397.25 196.15L400.15 193.25" stroke="#ff2020" stroke-width="1.1" fill="none"/>
<path d="M408.63 193.25L411.53 196.15M408.63 196.15L411.53 193.25" stroke="#ff2020" stroke-width="1.1" fill="none"/>
<path d="M420.00 193.25L422.90 196.15M420.00 196.15L422.90 193.25" stroke="#ff2020" stroke-width="1.1" fill="none"/>
<path d="M431.38 193.25L434.28 196.15M431.38 196.15L434.28 193.25" stroke="#ff2020" stroke-width="1.1" fill="none"/>
<path d="M442.75 193.25L445.65 196.15M442.75 196.15L445.65 193.25" stroke="#ff2020" stroke-width="1.1" fill="none"/>
<path d="M454.13 193.25L457.03 196.15M454.13 196.15L457.03 193.25" stroke="#ff2020" stroke-width="1.1" fill="none"/>
<path d="M465.50 193.25L468.40 196.15M465.50 196.15L468.40 193.25" stroke="#ff2020" stroke-width="1.1" fill="none"/>
<path d="M476.88 193.25L479.78 196.15M476.88 196.15L479.78 193.25" stroke="#ff2020" stroke-width="1.1" fill="none"/>
<path d="M488.25 193.25L491.15 196.15M488.25 196.15L491.15 193.25" stroke="#ff2020" stroke-width="1.1" fill="none"/>
<path d="M499.63 193.25L502.53 196.15M499.63 196.15L502.53 193.25" stroke="#ff2020" stroke-width="1.1" fill="none"/>
<path d="M511.00 193.25L513.90 196.15M511.00 196.15L513.90 193.25" stroke="#ff2020" stroke-width="1.1" fill="none"/>
<path d="M522.38 193.25L525.28 196.15M522.38 196.15L525.28 193.25" stroke="#ff2020" stroke-width="1.1" fill="none"/>
<path d="M533.75 193.25L536.65 196.15M533.75 196.15L536.65 193.25" stroke="#ff2020" stroke-width="1.1" fill="none"/>
<path d="M307.70 14.50L319.07 107.10L330.45 112.40L341.82 119.60L353.20 126.00L364.57 129.80L375.95 130.70L387.33 132.10L398.70 136.20L410.08 139.70L421.45 146.70L432.83 150.50L444.20 156.20L455.58 159.50L466.95 167.00L478.33 170.00L489.70 177.00L501.08 180.00L512.45 181.40L523.83 182.60L535.20 182.60" stroke="#ff20ff" stroke-width="1.5" fill="none" stroke-dasharray="1.3 0.8" clip-path="url(#c2)"/>
<path d="M305.40 14.50H310.00M307.70 11.86V17.14" stroke="#ff20ff" stroke-width="1.0" fill="none"/>
<path d="M306.66 13.46L308.74 15.54M306.66 15.54L308.74 13.46" stroke="#ff20ff" stroke-width="0.8" fill="none"/>
<path d="M316.77 107.10H321.38M319.07 104.45V109.74" stroke="#ff20ff" stroke-width="1.0" fill="none"/>
<path d="M318.04 106.06L320.11 108.13M318.04 108.13L320.11 106.06" stroke="#ff20ff" stroke-width="0.8" fill="none"/>
<path d="M328.15 112.40H332.75M330.45 109.76V115.05" stroke="#ff20ff" stroke-width="1.0" fill="none"/>
<path d="M329.41 111.37L331.49 113.44M329.41 113.44L331.49 111.37" stroke="#ff20ff" stroke-width="0.8" fill="none"/>
<path d="M339.52 119.60H344.12M341.82 116.95V122.24" stroke="#ff20ff" stroke-width="1.0" fill="none"/>
<path d="M340.79 118.56L342.86 120.63M340.79 120.63L342.86 118.56" stroke="#ff20ff" stroke-width="0.8" fill="none"/>
<path d="M350.90 126.00H355.50M353.20 123.36V128.65" stroke="#ff20ff" stroke-width="1.0" fill="none"/>
<path d="M352.16 124.97L354.24 127.03M352.16 127.03L354.24 124.97" stroke="#ff20ff" stroke-width="0.8" fill="none"/>
<path d="M362.27 129.80H366.88M364.57 127.16V132.45" stroke="#ff20ff" stroke-width="1.0" fill="none"/>
<path d="M363.54 128.77L365.61 130.84M363.54 130.84L365.61 128.77" stroke="#ff20ff" stroke-width="0.8" fill="none"/>
<path d="M373.65 130.70H378.25M375.95 128.05V133.34" stroke="#ff20ff" stroke-width="1.0" fill="none"/>
<path d="M374.92 129.66L376.99 131.73M374.92 131.73L376.99 129.66" stroke="#ff20ff" stroke-width="0.8" fill="none"/>
<path d="M385.03 132.10H389.63M387.33 129.45V134.75" stroke="#ff20ff" stroke-width="1.0" fill="none"/>
<path d="M386.29 131.06L388.36 133.13M386.29 133.13L388.36 131.06" stroke="#ff20ff" stroke-width="0.8" fill="none"/>
<path d="M396.40 136.20H401.00M398.70 133.55V138.84" stroke="#ff20ff" stroke-width="1.0" fill="none"/>
<path d="M397.67 135.16L399.74 137.23M397.67 137.23L399.74 135.16" stroke="#ff20ff" stroke-width="0.8" fill="none"/>
<path d="M407.78 139.70H412.38M410.08 137.05V142.34" stroke="#ff20ff" stroke-width="1.0" fill="none"/>
<path d="M409.04 138.66L411.11 140.73M409.04 140.73L411.11 138.66" stroke="#ff20ff" stroke-width="0.8" fill="none"/>
<path d="M419.15 146.70H423.75M421.45 144.05V149.34" stroke="#ff20ff" stroke-width="1.0" fill="none"/>
<path d="M420.42 145.66L422.49 147.73M420.42 147.73L422.49 145.66" stroke="#ff20ff" stroke-width="0.8" fill="none"/>
<path d="M430.53 150.50H435.13M432.83 147.85V153.15" stroke="#ff20ff" stroke-width="1.0" fill="none"/>
<path d="M431.79 149.47L433.86 151.53M431.79 151.53L433.86 149.47" stroke="#ff20ff" stroke-width="0.8" fill="none"/>
<path d="M441.90 156.20H446.50M444.20 153.55V158.84" stroke="#ff20ff" stroke-width="1.0" fill="none"/>
<path d="M443.17 155.16L445.24 157.23M443.17 157.23L445.24 155.16" stroke="#ff20ff" stroke-width="0.8" fill="none"/>
<path d="M453.28 159.50H457.88M455.58 156.85V162.15" stroke="#ff20ff" stroke-width="1.0" fill="none"/>
<path d="M454.54 158.47L456.61 160.53M454.54 160.53L456.61 158.47" stroke="#ff20ff" stroke-width="0.8" fill="none"/>
<path d="M464.65 167.00H469.25M466.95 164.35V169.65" stroke="#ff20ff" stroke-width="1.0" fill="none"/>
<path d="M465.92 165.97L467.99 168.03M465.92 168.03L467.99 165.97" stroke="#ff20ff" stroke-width="0.8" fill="none"/>
<path d="M476.03 170.00H480.63M478.33 167.35V172.65" stroke="#ff20ff" stroke-width="1.0" fill="none"/>
<path d="M477.29 168.97L479.36 171.03M477.29 171.03L479.36 168.97" stroke="#ff20ff" stroke-width="0.8" fill="none"/>
<path d="M487.40 177.00H492.00M489.70 174.35V179.65" stroke="#ff20ff" stroke-width="1.0" fill="none"/>
<path d="M488.67 175.97L490.74 178.03M488.67 178.03L490.74 175.97" stroke="#ff20ff" stroke-width="0.8" fill="none"/>
<path d="M498.78 180.00H503.38M501.08 177.35V182.65" stroke="#ff20ff" stroke-width="1.0" fill="none"/>
<path d="M500.04 178.97L502.11 181.03M500.04 181.03L502.11 178.97" stroke="#ff20ff" stroke-width="0.8" fill="none"/>
<path d="M510.15 181.40H514.75M512.45 178.75V184.05" stroke="#ff20ff" stroke-width="1.0" fill="none"/>
<path d="M511.42 180.37L513.49 182.44M511.42 182.44L513.49 180.37" stroke="#ff20ff" stroke-width="0.8" fill="none"/>
<path d="M521.53 182.60H526.12M523.83 179.95V185.25" stroke="#ff20ff" stroke-width="1.0" fill="none"/>
<path d="M522.79 181.56L524.86 183.63M522.79 183.63L524.86 181.56" stroke="#ff20ff" stroke-width="0.8" fill="none"/>
<path d="M532.90 182.60H537.50M535.20 179.95V185.25" stroke="#ff20ff" stroke-width="1.0" fill="none"/>
<path d="M534.17 181.56L536.24 183.63M534.17 183.63L536.24 181.56" stroke="#ff20ff" stroke-width="0.8" fill="none"/>
<rect x="480.00" y="20.50" width="49.40" height="25.50" fill="#fff" stroke="#7a7a7a" stroke-width="0.8"/>
<line x1="481.00" y1="25.09" x2="503.00" y2="25.09" stroke="#1a1aff" stroke-width="1.4" stroke-dasharray="1.2 0.8"/>
<path d="M491.40 23.59L494.40 26.59M491.40 26.59L494.40 23.59" stroke="#1a1aff" stroke-width="1.3" fill="none"/>
<text x="504.70" y="27.39" font-size="6.3" text-anchor="start" fill="#333" textLength="15.3" lengthAdjust="spacingAndGlyphs">PPSO</text>
<line x1="481.00" y1="33.51" x2="503.00" y2="33.51" stroke="#ff2020" stroke-width="1.4" stroke-dasharray="1.2 0.8"/>
<path d="M491.40 32.01L494.40 35.01M491.40 35.01L494.40 32.01" stroke="#ff2020" stroke-width="1.3" fill="none"/>
<text x="504.70" y="35.80" font-size="6.3" text-anchor="start" fill="#333" textLength="21.4" lengthAdjust="spacingAndGlyphs">ICPPSO</text>
<line x1="481.00" y1="41.54" x2="503.00" y2="41.54" stroke="#ff20ff" stroke-width="1.4" stroke-dasharray="1.2 0.8"/>
<path d="M490.70 41.54H495.10M492.90 39.01V44.07" stroke="#ff20ff" stroke-width="1.0" fill="none"/>
<path d="M491.91 40.55L493.89 42.53M491.91 42.53L493.89 40.55" stroke="#ff20ff" stroke-width="0.8" fill="none"/>
<text x="504.70" y="43.84" font-size="6.3" text-anchor="start" fill="#333" textLength="20.5" lengthAdjust="spacingAndGlyphs">FMPSO</text>
<text x="347.70" y="213.80" font-size="7.6" text-anchor="start" fill="#404040" textLength="147.9" lengthAdjust="spacing">(function f2)&#160;&#160;&#160;Number of Iterationsx50</text>
<text transform="translate(288.60,104.20) rotate(-90)" font-size="7.7" text-anchor="middle" fill="#404040" textLength="62.1" lengthAdjust="spacing">Gbest Fitnesses</text>
<text x="308.60" y="13.30" font-size="7.5" text-anchor="start" fill="#404040" ><tspan font-size="6.5">&#215;</tspan><tspan dx="1.4">10</tspan><tspan font-size="6" dy="-3.5" dx="-0.1">8</tspan></text>
<text x="280.00" y="235.75" style="font-family:&quot;Liberation Serif&quot;,serif;font-weight:bold" font-size="10.2" fill="#111">(b)</text>
<clipPath id="c3"><rect x="34.50" y="246.80" width="226.50" height="179.20"/></clipPath>
<rect x="34.50" y="246.80" width="226.50" height="179.20" fill="none" stroke="#7a7a7a" stroke-width="1"/>
<line x1="34.50" y1="411.50" x2="36.70" y2="411.50" stroke="#7a7a7a" stroke-width="0.8" />
<line x1="261.00" y1="411.50" x2="258.80" y2="411.50" stroke="#7a7a7a" stroke-width="0.8" />
<text x="31.30" y="414.60" font-size="7.8" text-anchor="end" fill="#404040" >65</text>
<line x1="34.50" y1="378.48" x2="36.70" y2="378.48" stroke="#7a7a7a" stroke-width="0.8" />
<line x1="261.00" y1="378.48" x2="258.80" y2="378.48" stroke="#7a7a7a" stroke-width="0.8" />
<text x="31.30" y="381.58" font-size="7.8" text-anchor="end" fill="#404040" >70</text>
<line x1="34.50" y1="347.74" x2="36.70" y2="347.74" stroke="#7a7a7a" stroke-width="0.8" />
<line x1="261.00" y1="347.74" x2="258.80" y2="347.74" stroke="#7a7a7a" stroke-width="0.8" />
<text x="31.30" y="350.84" font-size="7.8" text-anchor="end" fill="#404040" >75</text>
<line x1="34.50" y1="318.98" x2="36.70" y2="318.98" stroke="#7a7a7a" stroke-width="0.8" />
<line x1="261.00" y1="318.98" x2="258.80" y2="318.98" stroke="#7a7a7a" stroke-width="0.8" />
<text x="31.30" y="322.08" font-size="7.8" text-anchor="end" fill="#404040" >80</text>
<line x1="34.50" y1="291.97" x2="36.70" y2="291.97" stroke="#7a7a7a" stroke-width="0.8" />
<line x1="261.00" y1="291.97" x2="258.80" y2="291.97" stroke="#7a7a7a" stroke-width="0.8" />
<text x="31.30" y="295.07" font-size="7.8" text-anchor="end" fill="#404040" >85</text>
<line x1="34.50" y1="266.50" x2="36.70" y2="266.50" stroke="#7a7a7a" stroke-width="0.8" />
<line x1="261.00" y1="266.50" x2="258.80" y2="266.50" stroke="#7a7a7a" stroke-width="0.8" />
<text x="31.30" y="269.60" font-size="7.8" text-anchor="end" fill="#404040" >90</text>
<line x1="34.50" y1="418.41" x2="35.80" y2="418.41" stroke="#7a7a7a" stroke-width="0.7" />
<line x1="261.00" y1="418.41" x2="259.70" y2="418.41" stroke="#7a7a7a" stroke-width="0.7" />
<line x1="34.50" y1="411.50" x2="35.80" y2="411.50" stroke="#7a7a7a" stroke-width="0.7" />
<line x1="261.00" y1="411.50" x2="259.70" y2="411.50" stroke="#7a7a7a" stroke-width="0.7" />
<line x1="34.50" y1="404.70" x2="35.80" y2="404.70" stroke="#7a7a7a" stroke-width="0.7" />
<line x1="261.00" y1="404.70" x2="259.70" y2="404.70" stroke="#7a7a7a" stroke-width="0.7" />
<line x1="34.50" y1="398.00" x2="35.80" y2="398.00" stroke="#7a7a7a" stroke-width="0.7" />
<line x1="261.00" y1="398.00" x2="259.70" y2="398.00" stroke="#7a7a7a" stroke-width="0.7" />
<line x1="34.50" y1="391.40" x2="35.80" y2="391.40" stroke="#7a7a7a" stroke-width="0.7" />
<line x1="261.00" y1="391.40" x2="259.70" y2="391.40" stroke="#7a7a7a" stroke-width="0.7" />
<line x1="34.50" y1="384.89" x2="35.80" y2="384.89" stroke="#7a7a7a" stroke-width="0.7" />
<line x1="261.00" y1="384.89" x2="259.70" y2="384.89" stroke="#7a7a7a" stroke-width="0.7" />
<line x1="34.50" y1="378.48" x2="35.80" y2="378.48" stroke="#7a7a7a" stroke-width="0.7" />
<line x1="261.00" y1="378.48" x2="259.70" y2="378.48" stroke="#7a7a7a" stroke-width="0.7" />
<line x1="34.50" y1="372.16" x2="35.80" y2="372.16" stroke="#7a7a7a" stroke-width="0.7" />
<line x1="261.00" y1="372.16" x2="259.70" y2="372.16" stroke="#7a7a7a" stroke-width="0.7" />
<line x1="34.50" y1="365.93" x2="35.80" y2="365.93" stroke="#7a7a7a" stroke-width="0.7" />
<line x1="261.00" y1="365.93" x2="259.70" y2="365.93" stroke="#7a7a7a" stroke-width="0.7" />
<line x1="34.50" y1="359.78" x2="35.80" y2="359.78" stroke="#7a7a7a" stroke-width="0.7" />
<line x1="261.00" y1="359.78" x2="259.70" y2="359.78" stroke="#7a7a7a" stroke-width="0.7" />
<line x1="34.50" y1="353.72" x2="35.80" y2="353.72" stroke="#7a7a7a" stroke-width="0.7" />
<line x1="261.00" y1="353.72" x2="259.70" y2="353.72" stroke="#7a7a7a" stroke-width="0.7" />
<line x1="34.50" y1="347.74" x2="35.80" y2="347.74" stroke="#7a7a7a" stroke-width="0.7" />
<line x1="261.00" y1="347.74" x2="259.70" y2="347.74" stroke="#7a7a7a" stroke-width="0.7" />
<line x1="34.50" y1="341.84" x2="35.80" y2="341.84" stroke="#7a7a7a" stroke-width="0.7" />
<line x1="261.00" y1="341.84" x2="259.70" y2="341.84" stroke="#7a7a7a" stroke-width="0.7" />
<line x1="34.50" y1="336.01" x2="35.80" y2="336.01" stroke="#7a7a7a" stroke-width="0.7" />
<line x1="261.00" y1="336.01" x2="259.70" y2="336.01" stroke="#7a7a7a" stroke-width="0.7" />
<line x1="34.50" y1="330.26" x2="35.80" y2="330.26" stroke="#7a7a7a" stroke-width="0.7" />
<line x1="261.00" y1="330.26" x2="259.70" y2="330.26" stroke="#7a7a7a" stroke-width="0.7" />
<line x1="34.50" y1="324.59" x2="35.80" y2="324.59" stroke="#7a7a7a" stroke-width="0.7" />
<line x1="261.00" y1="324.59" x2="259.70" y2="324.59" stroke="#7a7a7a" stroke-width="0.7" />
<line x1="34.50" y1="318.98" x2="35.80" y2="318.98" stroke="#7a7a7a" stroke-width="0.7" />
<line x1="261.00" y1="318.98" x2="259.70" y2="318.98" stroke="#7a7a7a" stroke-width="0.7" />
<line x1="34.50" y1="313.45" x2="35.80" y2="313.45" stroke="#7a7a7a" stroke-width="0.7" />
<line x1="261.00" y1="313.45" x2="259.70" y2="313.45" stroke="#7a7a7a" stroke-width="0.7" />
<line x1="34.50" y1="307.98" x2="35.80" y2="307.98" stroke="#7a7a7a" stroke-width="0.7" />
<line x1="261.00" y1="307.98" x2="259.70" y2="307.98" stroke="#7a7a7a" stroke-width="0.7" />
<line x1="34.50" y1="302.58" x2="35.80" y2="302.58" stroke="#7a7a7a" stroke-width="0.7" />
<line x1="261.00" y1="302.58" x2="259.70" y2="302.58" stroke="#7a7a7a" stroke-width="0.7" />
<line x1="34.50" y1="297.24" x2="35.80" y2="297.24" stroke="#7a7a7a" stroke-width="0.7" />
<line x1="261.00" y1="297.24" x2="259.70" y2="297.24" stroke="#7a7a7a" stroke-width="0.7" />
<line x1="34.50" y1="291.97" x2="35.80" y2="291.97" stroke="#7a7a7a" stroke-width="0.7" />
<line x1="261.00" y1="291.97" x2="259.70" y2="291.97" stroke="#7a7a7a" stroke-width="0.7" />
<line x1="34.50" y1="286.76" x2="35.80" y2="286.76" stroke="#7a7a7a" stroke-width="0.7" />
<line x1="261.00" y1="286.76" x2="259.70" y2="286.76" stroke="#7a7a7a" stroke-width="0.7" />
<line x1="34.50" y1="281.61" x2="35.80" y2="281.61" stroke="#7a7a7a" stroke-width="0.7" />
<line x1="261.00" y1="281.61" x2="259.70" y2="281.61" stroke="#7a7a7a" stroke-width="0.7" />
<line x1="34.50" y1="276.51" x2="35.80" y2="276.51" stroke="#7a7a7a" stroke-width="0.7" />
<line x1="261.00" y1="276.51" x2="259.70" y2="276.51" stroke="#7a7a7a" stroke-width="0.7" />
<line x1="34.50" y1="271.48" x2="35.80" y2="271.48" stroke="#7a7a7a" stroke-width="0.7" />
<line x1="261.00" y1="271.48" x2="259.70" y2="271.48" stroke="#7a7a7a" stroke-width="0.7" />
<line x1="34.50" y1="266.50" x2="35.80" y2="266.50" stroke="#7a7a7a" stroke-width="0.7" />
<line x1="261.00" y1="266.50" x2="259.70" y2="266.50" stroke="#7a7a7a" stroke-width="0.7" />
<line x1="34.50" y1="261.58" x2="35.80" y2="261.58" stroke="#7a7a7a" stroke-width="0.7" />
<line x1="261.00" y1="261.58" x2="259.70" y2="261.58" stroke="#7a7a7a" stroke-width="0.7" />
<line x1="34.50" y1="256.71" x2="35.80" y2="256.71" stroke="#7a7a7a" stroke-width="0.7" />
<line x1="261.00" y1="256.71" x2="259.70" y2="256.71" stroke="#7a7a7a" stroke-width="0.7" />
<line x1="34.50" y1="251.89" x2="35.80" y2="251.89" stroke="#7a7a7a" stroke-width="0.7" />
<line x1="261.00" y1="251.89" x2="259.70" y2="251.89" stroke="#7a7a7a" stroke-width="0.7" />
<line x1="34.50" y1="426.00" x2="34.50" y2="423.80" stroke="#7a7a7a" stroke-width="0.8" />
<line x1="34.50" y1="246.80" x2="34.50" y2="249.00" stroke="#7a7a7a" stroke-width="0.8" />
<text x="34.50" y="435.30" font-size="7.8" text-anchor="middle" fill="#404040" >0</text>
<line x1="91.12" y1="426.00" x2="91.12" y2="423.80" stroke="#7a7a7a" stroke-width="0.8" />
<line x1="91.12" y1="246.80" x2="91.12" y2="249.00" stroke="#7a7a7a" stroke-width="0.8" />
<text x="91.12" y="435.30" font-size="7.8" text-anchor="middle" fill="#404040" >5</text>
<line x1="147.75" y1="426.00" x2="147.75" y2="423.80" stroke="#7a7a7a" stroke-width="0.8" />
<line x1="147.75" y1="246.80" x2="147.75" y2="249.00" stroke="#7a7a7a" stroke-width="0.8" />
<text x="147.75" y="435.30" font-size="7.8" text-anchor="middle" fill="#404040" >10</text>
<line x1="204.38" y1="426.00" x2="204.38" y2="423.80" stroke="#7a7a7a" stroke-width="0.8" />
<line x1="204.38" y1="246.80" x2="204.38" y2="249.00" stroke="#7a7a7a" stroke-width="0.8" />
<text x="204.38" y="435.30" font-size="7.8" text-anchor="middle" fill="#404040" >15</text>
<line x1="261.00" y1="426.00" x2="261.00" y2="423.80" stroke="#7a7a7a" stroke-width="0.8" />
<line x1="261.00" y1="246.80" x2="261.00" y2="249.00" stroke="#7a7a7a" stroke-width="0.8" />
<text x="261.00" y="435.30" font-size="7.8" text-anchor="middle" fill="#404040" >20</text>
<path d="M34.50 286.80L45.83 372.60L57.15 372.60L68.47 372.60L79.80 372.60L91.12 372.60L102.45 372.60L113.78 372.60L125.10 372.60L136.43 372.60L147.75 372.60L159.07 372.60L170.40 372.60L181.72 372.60L193.05 372.60L204.38 372.60L215.70 372.60L227.03 372.60L238.35 372.60L249.68 372.60L261.00 372.60" stroke="#1a1aff" stroke-width="1.5" fill="none" stroke-dasharray="1.3 0.8" clip-path="url(#c3)"/>
<path d="M33.05 285.35L35.95 288.25M33.05 288.25L35.95 285.35" stroke="#1a1aff" stroke-width="1.1" fill="none"/>
<path d="M44.38 371.15L47.28 374.05M44.38 374.05L47.28 371.15" stroke="#1a1aff" stroke-width="1.1" fill="none"/>
<path d="M55.70 371.15L58.60 374.05M55.70 374.05L58.60 371.15" stroke="#1a1aff" stroke-width="1.1" fill="none"/>
<path d="M67.02 371.15L69.92 374.05M67.02 374.05L69.92 371.15" stroke="#1a1aff" stroke-width="1.1" fill="none"/>
<path d="M78.35 371.15L81.25 374.05M78.35 374.05L81.25 371.15" stroke="#1a1aff" stroke-width="1.1" fill="none"/>
<path d="M89.67 371.15L92.58 374.05M89.67 374.05L92.58 371.15" stroke="#1a1aff" stroke-width="1.1" fill="none"/>
<path d="M101.00 371.15L103.90 374.05M101.00 374.05L103.90 371.15" stroke="#1a1aff" stroke-width="1.1" fill="none"/>
<path d="M112.33 371.15L115.23 374.05M112.33 374.05L115.23 371.15" stroke="#1a1aff" stroke-width="1.1" fill="none"/>
<path d="M123.65 371.15L126.55 374.05M123.65 374.05L126.55 371.15" stroke="#1a1aff" stroke-width="1.1" fill="none"/>
<path d="M134.98 371.15L137.88 374.05M134.98 374.05L137.88 371.15" stroke="#1a1aff" stroke-width="1.1" fill="none"/>
<path d="M146.30 371.15L149.20 374.05M146.30 374.05L149.20 371.15" stroke="#1a1aff" stroke-width="1.1" fill="none"/>
<path d="M157.62 371.15L160.52 374.05M157.62 374.05L160.52 371.15" stroke="#1a1aff" stroke-width="1.1" fill="none"/>
<path d="M168.95 371.15L171.85 374.05M168.95 374.05L171.85 371.15" stroke="#1a1aff" stroke-width="1.1" fill="none"/>
<path d="M180.28 371.15L183.17 374.05M180.28 374.05L183.17 371.15" stroke="#1a1aff" stroke-width="1.1" fill="none"/>
<path d="M191.60 371.15L194.50 374.05M191.60 374.05L194.50 371.15" stroke="#1a1aff" stroke-width="1.1" fill="none"/>
<path d="M202.93 371.15L205.82 374.05M202.93 374.05L205.82 371.15" stroke="#1a1aff" stroke-width="1.1" fill="none"/>
<path d="M214.25 371.15L217.15 374.05M214.25 374.05L217.15 371.15" stroke="#1a1aff" stroke-width="1.1" fill="none"/>
<path d="M225.58 371.15L228.47 374.05M225.58 374.05L228.47 371.15" stroke="#1a1aff" stroke-width="1.1" fill="none"/>
<path d="M236.90 371.15L239.80 374.05M236.90 374.05L239.80 371.15" stroke="#1a1aff" stroke-width="1.1" fill="none"/>
<path d="M248.23 371.15L251.12 374.05M248.23 374.05L251.12 371.15" stroke="#1a1aff" stroke-width="1.1" fill="none"/>
<path d="M259.55 371.15L262.45 374.05M259.55 374.05L262.45 371.15" stroke="#1a1aff" stroke-width="1.1" fill="none"/>
<path d="M34.50 291.60L45.83 426.00L57.15 426.00L68.47 426.00L79.80 426.00L91.12 426.00L102.45 426.00L113.78 426.00L125.10 426.00L136.43 426.00L147.75 426.00L159.07 426.00L170.40 426.00L181.72 426.00L193.05 426.00L204.38 426.00L215.70 426.00L227.03 426.00L238.35 426.00L249.68 426.00L261.00 426.00" stroke="#ff2020" stroke-width="1.5" fill="none" stroke-dasharray="1.3 0.8" clip-path="url(#c3)"/>
<path d="M33.05 290.15L35.95 293.05M33.05 293.05L35.95 290.15" stroke="#ff2020" stroke-width="1.1" fill="none"/>
<path d="M44.38 424.55L47.28 427.45M44.38 427.45L47.28 424.55" stroke="#ff2020" stroke-width="1.1" fill="none"/>
<path d="M55.70 424.55L58.60 427.45M55.70 427.45L58.60 424.55" stroke="#ff2020" stroke-width="1.1" fill="none"/>
<path d="M67.02 424.55L69.92 427.45M67.02 427.45L69.92 424.55" stroke="#ff2020" stroke-width="1.1" fill="none"/>
<path d="M78.35 424.55L81.25 427.45M78.35 427.45L81.25 424.55" stroke="#ff2020" stroke-width="1.1" fill="none"/>
<path d="M89.67 424.55L92.58 427.45M89.67 427.45L92.58 424.55" stroke="#ff2020" stroke-width="1.1" fill="none"/>
<path d="M101.00 424.55L103.90 427.45M101.00 427.45L103.90 424.55" stroke="#ff2020" stroke-width="1.1" fill="none"/>
<path d="M112.33 424.55L115.23 427.45M112.33 427.45L115.23 424.55" stroke="#ff2020" stroke-width="1.1" fill="none"/>
<path d="M123.65 424.55L126.55 427.45M123.65 427.45L126.55 424.55" stroke="#ff2020" stroke-width="1.1" fill="none"/>
<path d="M134.98 424.55L137.88 427.45M134.98 427.45L137.88 424.55" stroke="#ff2020" stroke-width="1.1" fill="none"/>
<path d="M146.30 424.55L149.20 427.45M146.30 427.45L149.20 424.55" stroke="#ff2020" stroke-width="1.1" fill="none"/>
<path d="M157.62 424.55L160.52 427.45M157.62 427.45L160.52 424.55" stroke="#ff2020" stroke-width="1.1" fill="none"/>
<path d="M168.95 424.55L171.85 427.45M168.95 427.45L171.85 424.55" stroke="#ff2020" stroke-width="1.1" fill="none"/>
<path d="M180.28 424.55L183.17 427.45M180.28 427.45L183.17 424.55" stroke="#ff2020" stroke-width="1.1" fill="none"/>
<path d="M191.60 424.55L194.50 427.45M191.60 427.45L194.50 424.55" stroke="#ff2020" stroke-width="1.1" fill="none"/>
<path d="M202.93 424.55L205.82 427.45M202.93 427.45L205.82 424.55" stroke="#ff2020" stroke-width="1.1" fill="none"/>
<path d="M214.25 424.55L217.15 427.45M214.25 427.45L217.15 424.55" stroke="#ff2020" stroke-width="1.1" fill="none"/>
<path d="M225.58 424.55L228.47 427.45M225.58 427.45L228.47 424.55" stroke="#ff2020" stroke-width="1.1" fill="none"/>
<path d="M236.90 424.55L239.80 427.45M236.90 427.45L239.80 424.55" stroke="#ff2020" stroke-width="1.1" fill="none"/>
<path d="M248.23 424.55L251.12 427.45M248.23 427.45L251.12 424.55" stroke="#ff2020" stroke-width="1.1" fill="none"/>
<path d="M259.55 424.55L262.45 427.45M259.55 427.45L262.45 424.55" stroke="#ff2020" stroke-width="1.1" fill="none"/>
<path d="M34.50 246.80L45.83 366.20L57.15 379.50L68.47 398.50L79.80 398.50L91.12 398.50L102.45 398.50L113.78 398.50L125.10 405.40L136.43 405.40L147.75 405.40L159.07 405.40L170.40 405.40L181.72 411.50L193.05 411.50L204.38 411.50L215.70 411.50L227.03 411.50L238.35 411.50L249.68 411.50L261.00 411.50" stroke="#ff20ff" stroke-width="1.5" fill="none" stroke-dasharray="1.3 0.8" clip-path="url(#c3)"/>
<path d="M32.20 246.80H36.80M34.50 244.16V249.45" stroke="#ff20ff" stroke-width="1.0" fill="none"/>
<path d="M33.47 245.77L35.53 247.84M33.47 247.84L35.53 245.77" stroke="#ff20ff" stroke-width="0.8" fill="none"/>
<path d="M43.53 366.20H48.12M45.83 363.56V368.84" stroke="#ff20ff" stroke-width="1.0" fill="none"/>
<path d="M44.79 365.16L46.86 367.24M44.79 367.24L46.86 365.16" stroke="#ff20ff" stroke-width="0.8" fill="none"/>
<path d="M54.85 379.50H59.45M57.15 376.86V382.14" stroke="#ff20ff" stroke-width="1.0" fill="none"/>
<path d="M56.12 378.46L58.18 380.54M56.12 380.54L58.18 378.46" stroke="#ff20ff" stroke-width="0.8" fill="none"/>
<path d="M66.17 398.50H70.77M68.47 395.86V401.14" stroke="#ff20ff" stroke-width="1.0" fill="none"/>
<path d="M67.44 397.46L69.51 399.54M67.44 399.54L69.51 397.46" stroke="#ff20ff" stroke-width="0.8" fill="none"/>
<path d="M77.50 398.50H82.10M79.80 395.86V401.14" stroke="#ff20ff" stroke-width="1.0" fill="none"/>
<path d="M78.77 397.46L80.83 399.54M78.77 399.54L80.83 397.46" stroke="#ff20ff" stroke-width="0.8" fill="none"/>
<path d="M88.83 398.50H93.42M91.12 395.86V401.14" stroke="#ff20ff" stroke-width="1.0" fill="none"/>
<path d="M90.09 397.46L92.16 399.54M90.09 399.54L92.16 397.46" stroke="#ff20ff" stroke-width="0.8" fill="none"/>
<path d="M100.15 398.50H104.75M102.45 395.86V401.14" stroke="#ff20ff" stroke-width="1.0" fill="none"/>
<path d="M101.42 397.46L103.48 399.54M101.42 399.54L103.48 397.46" stroke="#ff20ff" stroke-width="0.8" fill="none"/>
<path d="M111.48 398.50H116.08M113.78 395.86V401.14" stroke="#ff20ff" stroke-width="1.0" fill="none"/>
<path d="M112.74 397.46L114.81 399.54M112.74 399.54L114.81 397.46" stroke="#ff20ff" stroke-width="0.8" fill="none"/>
<path d="M122.80 405.40H127.40M125.10 402.75V408.04" stroke="#ff20ff" stroke-width="1.0" fill="none"/>
<path d="M124.06 404.36L126.13 406.44M124.06 406.44L126.13 404.36" stroke="#ff20ff" stroke-width="0.8" fill="none"/>
<path d="M134.12 405.40H138.73M136.43 402.75V408.04" stroke="#ff20ff" stroke-width="1.0" fill="none"/>
<path d="M135.39 404.36L137.46 406.44M135.39 406.44L137.46 404.36" stroke="#ff20ff" stroke-width="0.8" fill="none"/>
<path d="M145.45 405.40H150.05M147.75 402.75V408.04" stroke="#ff20ff" stroke-width="1.0" fill="none"/>
<path d="M146.72 404.36L148.78 406.44M146.72 406.44L148.78 404.36" stroke="#ff20ff" stroke-width="0.8" fill="none"/>
<path d="M156.77 405.40H161.38M159.07 402.75V408.04" stroke="#ff20ff" stroke-width="1.0" fill="none"/>
<path d="M158.04 404.36L160.11 406.44M158.04 406.44L160.11 404.36" stroke="#ff20ff" stroke-width="0.8" fill="none"/>
<path d="M168.10 405.40H172.70M170.40 402.75V408.04" stroke="#ff20ff" stroke-width="1.0" fill="none"/>
<path d="M169.37 404.36L171.44 406.44M169.37 406.44L171.44 404.36" stroke="#ff20ff" stroke-width="0.8" fill="none"/>
<path d="M179.42 411.50H184.03M181.72 408.86V414.14" stroke="#ff20ff" stroke-width="1.0" fill="none"/>
<path d="M180.69 410.46L182.76 412.54M180.69 412.54L182.76 410.46" stroke="#ff20ff" stroke-width="0.8" fill="none"/>
<path d="M190.75 411.50H195.35M193.05 408.86V414.14" stroke="#ff20ff" stroke-width="1.0" fill="none"/>
<path d="M192.02 410.46L194.09 412.54M192.02 412.54L194.09 410.46" stroke="#ff20ff" stroke-width="0.8" fill="none"/>
<path d="M202.07 411.50H206.68M204.38 408.86V414.14" stroke="#ff20ff" stroke-width="1.0" fill="none"/>
<path d="M203.34 410.46L205.41 412.54M203.34 412.54L205.41 410.46" stroke="#ff20ff" stroke-width="0.8" fill="none"/>
<path d="M213.40 411.50H218.00M215.70 408.86V414.14" stroke="#ff20ff" stroke-width="1.0" fill="none"/>
<path d="M214.66 410.46L216.73 412.54M214.66 412.54L216.73 410.46" stroke="#ff20ff" stroke-width="0.8" fill="none"/>
<path d="M224.72 411.50H229.33M227.03 408.86V414.14" stroke="#ff20ff" stroke-width="1.0" fill="none"/>
<path d="M225.99 410.46L228.06 412.54M225.99 412.54L228.06 410.46" stroke="#ff20ff" stroke-width="0.8" fill="none"/>
<path d="M236.05 411.50H240.65M238.35 408.86V414.14" stroke="#ff20ff" stroke-width="1.0" fill="none"/>
<path d="M237.31 410.46L239.38 412.54M237.31 412.54L239.38 410.46" stroke="#ff20ff" stroke-width="0.8" fill="none"/>
<path d="M247.38 411.50H251.98M249.68 408.86V414.14" stroke="#ff20ff" stroke-width="1.0" fill="none"/>
<path d="M248.64 410.46L250.71 412.54M248.64 412.54L250.71 410.46" stroke="#ff20ff" stroke-width="0.8" fill="none"/>
<path d="M258.70 411.50H263.30M261.00 408.86V414.14" stroke="#ff20ff" stroke-width="1.0" fill="none"/>
<path d="M259.96 410.46L262.04 412.54M259.96 412.54L262.04 410.46" stroke="#ff20ff" stroke-width="0.8" fill="none"/>
<rect x="206.00" y="252.50" width="49.40" height="25.50" fill="#fff" stroke="#7a7a7a" stroke-width="0.8"/>
<line x1="207.00" y1="257.09" x2="229.00" y2="257.09" stroke="#1a1aff" stroke-width="1.4" stroke-dasharray="1.2 0.8"/>
<path d="M217.40 255.59L220.40 258.59M217.40 258.59L220.40 255.59" stroke="#1a1aff" stroke-width="1.3" fill="none"/>
<text x="230.30" y="259.39" font-size="6.3" text-anchor="start" fill="#333" textLength="15.3" lengthAdjust="spacingAndGlyphs">PPSO</text>
<line x1="207.00" y1="265.50" x2="229.00" y2="265.50" stroke="#ff2020" stroke-width="1.4" stroke-dasharray="1.2 0.8"/>
<path d="M217.40 264.00L220.40 267.00M217.40 267.00L220.40 264.00" stroke="#ff2020" stroke-width="1.3" fill="none"/>
<text x="230.30" y="267.81" font-size="6.3" text-anchor="start" fill="#333" textLength="21.4" lengthAdjust="spacingAndGlyphs">ICPPSO</text>
<line x1="207.00" y1="273.54" x2="229.00" y2="273.54" stroke="#ff20ff" stroke-width="1.4" stroke-dasharray="1.2 0.8"/>
<path d="M216.70 273.54H221.10M218.90 271.01V276.07" stroke="#ff20ff" stroke-width="1.0" fill="none"/>
<path d="M217.91 272.55L219.89 274.53M217.91 274.53L219.89 272.55" stroke="#ff20ff" stroke-width="0.8" fill="none"/>
<text x="230.30" y="275.84" font-size="6.3" text-anchor="start" fill="#333" textLength="20.5" lengthAdjust="spacingAndGlyphs">FMPSO</text>
<text x="73.70" y="445.40" font-size="7.6" text-anchor="start" fill="#404040" textLength="147.6" lengthAdjust="spacing">(function f3)&#160;&#160;&#160;Number of Iterationsx50</text>
<text transform="translate(17.50,336.20) rotate(-90)" font-size="7.7" text-anchor="middle" fill="#404040" textLength="60.5" lengthAdjust="spacing">Gbest Fitnesses</text>
<text x="6.00" y="470.25" style="font-family:&quot;Liberation Serif&quot;,serif;font-weight:bold" font-size="10.2" fill="#111">(c)</text>
<clipPath id="c4"><rect x="311.40" y="251.70" width="221.60" height="175.30"/></clipPath>
<rect x="311.40" y="251.70" width="221.60" height="175.30" fill="none" stroke="#7a7a7a" stroke-width="1"/>
<line x1="311.40" y1="404.09" x2="313.60" y2="404.09" stroke="#7a7a7a" stroke-width="0.8" />
<line x1="533.00" y1="404.09" x2="530.80" y2="404.09" stroke="#7a7a7a" stroke-width="0.8" />
<text x="308.20" y="407.19" font-size="7.8" text-anchor="end" fill="#404040" >1</text>
<line x1="311.40" y1="363.76" x2="313.60" y2="363.76" stroke="#7a7a7a" stroke-width="0.8" />
<line x1="533.00" y1="363.76" x2="530.80" y2="363.76" stroke="#7a7a7a" stroke-width="0.8" />
<text x="308.20" y="366.86" font-size="7.8" text-anchor="end" fill="#404040" >1.5</text>
<line x1="311.40" y1="335.15" x2="313.60" y2="335.15" stroke="#7a7a7a" stroke-width="0.8" />
<line x1="533.00" y1="335.15" x2="530.80" y2="335.15" stroke="#7a7a7a" stroke-width="0.8" />
<text x="308.20" y="338.25" font-size="7.8" text-anchor="end" fill="#404040" >2</text>
<line x1="311.40" y1="312.96" x2="313.60" y2="312.96" stroke="#7a7a7a" stroke-width="0.8" />
<line x1="533.00" y1="312.96" x2="530.80" y2="312.96" stroke="#7a7a7a" stroke-width="0.8" />
<text x="308.20" y="316.06" font-size="7.8" text-anchor="end" fill="#404040" >2.5</text>
<line x1="311.40" y1="294.82" x2="313.60" y2="294.82" stroke="#7a7a7a" stroke-width="0.8" />
<line x1="533.00" y1="294.82" x2="530.80" y2="294.82" stroke="#7a7a7a" stroke-width="0.8" />
<text x="308.20" y="297.92" font-size="7.8" text-anchor="end" fill="#404040" >3</text>
<line x1="311.40" y1="279.49" x2="313.60" y2="279.49" stroke="#7a7a7a" stroke-width="0.8" />
<line x1="533.00" y1="279.49" x2="530.80" y2="279.49" stroke="#7a7a7a" stroke-width="0.8" />
<text x="308.20" y="282.59" font-size="7.8" text-anchor="end" fill="#404040" >3.5</text>
<line x1="311.40" y1="266.21" x2="313.60" y2="266.21" stroke="#7a7a7a" stroke-width="0.8" />
<line x1="533.00" y1="266.21" x2="530.80" y2="266.21" stroke="#7a7a7a" stroke-width="0.8" />
<text x="308.20" y="269.31" font-size="7.8" text-anchor="end" fill="#404040" >4</text>
<line x1="311.40" y1="254.50" x2="313.60" y2="254.50" stroke="#7a7a7a" stroke-width="0.8" />
<line x1="533.00" y1="254.50" x2="530.80" y2="254.50" stroke="#7a7a7a" stroke-width="0.8" />
<text x="308.20" y="257.60" font-size="7.8" text-anchor="end" fill="#404040" >4.5</text>
<line x1="311.40" y1="414.56" x2="312.70" y2="414.56" stroke="#7a7a7a" stroke-width="0.7" />
<line x1="533.00" y1="414.56" x2="531.70" y2="414.56" stroke="#7a7a7a" stroke-width="0.7" />
<line x1="311.40" y1="404.09" x2="312.70" y2="404.09" stroke="#7a7a7a" stroke-width="0.7" />
<line x1="533.00" y1="404.09" x2="531.70" y2="404.09" stroke="#7a7a7a" stroke-width="0.7" />
<line x1="311.40" y1="394.61" x2="312.70" y2="394.61" stroke="#7a7a7a" stroke-width="0.7" />
<line x1="533.00" y1="394.61" x2="531.70" y2="394.61" stroke="#7a7a7a" stroke-width="0.7" />
<line x1="311.40" y1="385.95" x2="312.70" y2="385.95" stroke="#7a7a7a" stroke-width="0.7" />
<line x1="533.00" y1="385.95" x2="531.70" y2="385.95" stroke="#7a7a7a" stroke-width="0.7" />
<line x1="311.40" y1="377.99" x2="312.70" y2="377.99" stroke="#7a7a7a" stroke-width="0.7" />
<line x1="533.00" y1="377.99" x2="531.70" y2="377.99" stroke="#7a7a7a" stroke-width="0.7" />
<line x1="311.40" y1="370.62" x2="312.70" y2="370.62" stroke="#7a7a7a" stroke-width="0.7" />
<line x1="533.00" y1="370.62" x2="531.70" y2="370.62" stroke="#7a7a7a" stroke-width="0.7" />
<line x1="311.40" y1="363.76" x2="312.70" y2="363.76" stroke="#7a7a7a" stroke-width="0.7" />
<line x1="533.00" y1="363.76" x2="531.70" y2="363.76" stroke="#7a7a7a" stroke-width="0.7" />
<line x1="311.40" y1="357.34" x2="312.70" y2="357.34" stroke="#7a7a7a" stroke-width="0.7" />
<line x1="533.00" y1="357.34" x2="531.70" y2="357.34" stroke="#7a7a7a" stroke-width="0.7" />
<line x1="311.40" y1="351.31" x2="312.70" y2="351.31" stroke="#7a7a7a" stroke-width="0.7" />
<line x1="533.00" y1="351.31" x2="531.70" y2="351.31" stroke="#7a7a7a" stroke-width="0.7" />
<line x1="311.40" y1="345.63" x2="312.70" y2="345.63" stroke="#7a7a7a" stroke-width="0.7" />
<line x1="533.00" y1="345.63" x2="531.70" y2="345.63" stroke="#7a7a7a" stroke-width="0.7" />
<line x1="311.40" y1="340.25" x2="312.70" y2="340.25" stroke="#7a7a7a" stroke-width="0.7" />
<line x1="533.00" y1="340.25" x2="531.70" y2="340.25" stroke="#7a7a7a" stroke-width="0.7" />
<line x1="311.40" y1="335.15" x2="312.70" y2="335.15" stroke="#7a7a7a" stroke-width="0.7" />
<line x1="533.00" y1="335.15" x2="531.70" y2="335.15" stroke="#7a7a7a" stroke-width="0.7" />
<line x1="311.40" y1="330.30" x2="312.70" y2="330.30" stroke="#7a7a7a" stroke-width="0.7" />
<line x1="533.00" y1="330.30" x2="531.70" y2="330.30" stroke="#7a7a7a" stroke-width="0.7" />
<line x1="311.40" y1="325.67" x2="312.70" y2="325.67" stroke="#7a7a7a" stroke-width="0.7" />
<line x1="533.00" y1="325.67" x2="531.70" y2="325.67" stroke="#7a7a7a" stroke-width="0.7" />
<line x1="311.40" y1="321.25" x2="312.70" y2="321.25" stroke="#7a7a7a" stroke-width="0.7" />
<line x1="533.00" y1="321.25" x2="531.70" y2="321.25" stroke="#7a7a7a" stroke-width="0.7" />
<line x1="311.40" y1="317.02" x2="312.70" y2="317.02" stroke="#7a7a7a" stroke-width="0.7" />
<line x1="533.00" y1="317.02" x2="531.70" y2="317.02" stroke="#7a7a7a" stroke-width="0.7" />
<line x1="311.40" y1="312.96" x2="312.70" y2="312.96" stroke="#7a7a7a" stroke-width="0.7" />
<line x1="533.00" y1="312.96" x2="531.70" y2="312.96" stroke="#7a7a7a" stroke-width="0.7" />
<line x1="311.40" y1="309.06" x2="312.70" y2="309.06" stroke="#7a7a7a" stroke-width="0.7" />
<line x1="533.00" y1="309.06" x2="531.70" y2="309.06" stroke="#7a7a7a" stroke-width="0.7" />
<line x1="311.40" y1="305.30" x2="312.70" y2="305.30" stroke="#7a7a7a" stroke-width="0.7" />
<line x1="533.00" y1="305.30" x2="531.70" y2="305.30" stroke="#7a7a7a" stroke-width="0.7" />
<line x1="311.40" y1="301.69" x2="312.70" y2="301.69" stroke="#7a7a7a" stroke-width="0.7" />
<line x1="533.00" y1="301.69" x2="531.70" y2="301.69" stroke="#7a7a7a" stroke-width="0.7" />
<line x1="311.40" y1="298.20" x2="312.70" y2="298.20" stroke="#7a7a7a" stroke-width="0.7" />
<line x1="533.00" y1="298.20" x2="531.70" y2="298.20" stroke="#7a7a7a" stroke-width="0.7" />
<line x1="311.40" y1="294.82" x2="312.70" y2="294.82" stroke="#7a7a7a" stroke-width="0.7" />
<line x1="533.00" y1="294.82" x2="531.70" y2="294.82" stroke="#7a7a7a" stroke-width="0.7" />
<line x1="311.40" y1="291.56" x2="312.70" y2="291.56" stroke="#7a7a7a" stroke-width="0.7" />
<line x1="533.00" y1="291.56" x2="531.70" y2="291.56" stroke="#7a7a7a" stroke-width="0.7" />
<line x1="311.40" y1="288.41" x2="312.70" y2="288.41" stroke="#7a7a7a" stroke-width="0.7" />
<line x1="533.00" y1="288.41" x2="531.70" y2="288.41" stroke="#7a7a7a" stroke-width="0.7" />
<line x1="311.40" y1="285.35" x2="312.70" y2="285.35" stroke="#7a7a7a" stroke-width="0.7" />
<line x1="533.00" y1="285.35" x2="531.70" y2="285.35" stroke="#7a7a7a" stroke-width="0.7" />
<line x1="311.40" y1="282.38" x2="312.70" y2="282.38" stroke="#7a7a7a" stroke-width="0.7" />
<line x1="533.00" y1="282.38" x2="531.70" y2="282.38" stroke="#7a7a7a" stroke-width="0.7" />
<line x1="311.40" y1="279.49" x2="312.70" y2="279.49" stroke="#7a7a7a" stroke-width="0.7" />
<line x1="533.00" y1="279.49" x2="531.70" y2="279.49" stroke="#7a7a7a" stroke-width="0.7" />
<line x1="311.40" y1="276.69" x2="312.70" y2="276.69" stroke="#7a7a7a" stroke-width="0.7" />
<line x1="533.00" y1="276.69" x2="531.70" y2="276.69" stroke="#7a7a7a" stroke-width="0.7" />
<line x1="311.40" y1="273.97" x2="312.70" y2="273.97" stroke="#7a7a7a" stroke-width="0.7" />
<line x1="533.00" y1="273.97" x2="531.70" y2="273.97" stroke="#7a7a7a" stroke-width="0.7" />
<line x1="311.40" y1="271.32" x2="312.70" y2="271.32" stroke="#7a7a7a" stroke-width="0.7" />
<line x1="533.00" y1="271.32" x2="531.70" y2="271.32" stroke="#7a7a7a" stroke-width="0.7" />
<line x1="311.40" y1="268.73" x2="312.70" y2="268.73" stroke="#7a7a7a" stroke-width="0.7" />
<line x1="533.00" y1="268.73" x2="531.70" y2="268.73" stroke="#7a7a7a" stroke-width="0.7" />
<line x1="311.40" y1="266.21" x2="312.70" y2="266.21" stroke="#7a7a7a" stroke-width="0.7" />
<line x1="533.00" y1="266.21" x2="531.70" y2="266.21" stroke="#7a7a7a" stroke-width="0.7" />
<line x1="311.40" y1="263.76" x2="312.70" y2="263.76" stroke="#7a7a7a" stroke-width="0.7" />
<line x1="533.00" y1="263.76" x2="531.70" y2="263.76" stroke="#7a7a7a" stroke-width="0.7" />
<line x1="311.40" y1="261.36" x2="312.70" y2="261.36" stroke="#7a7a7a" stroke-width="0.7" />
<line x1="533.00" y1="261.36" x2="531.70" y2="261.36" stroke="#7a7a7a" stroke-width="0.7" />
<line x1="311.40" y1="259.02" x2="312.70" y2="259.02" stroke="#7a7a7a" stroke-width="0.7" />
<line x1="533.00" y1="259.02" x2="531.70" y2="259.02" stroke="#7a7a7a" stroke-width="0.7" />
<line x1="311.40" y1="256.74" x2="312.70" y2="256.74" stroke="#7a7a7a" stroke-width="0.7" />
<line x1="533.00" y1="256.74" x2="531.70" y2="256.74" stroke="#7a7a7a" stroke-width="0.7" />
<line x1="311.40" y1="254.50" x2="312.70" y2="254.50" stroke="#7a7a7a" stroke-width="0.7" />
<line x1="533.00" y1="254.50" x2="531.70" y2="254.50" stroke="#7a7a7a" stroke-width="0.7" />
<line x1="311.40" y1="427.00" x2="311.40" y2="424.80" stroke="#7a7a7a" stroke-width="0.8" />
<line x1="311.40" y1="251.70" x2="311.40" y2="253.90" stroke="#7a7a7a" stroke-width="0.8" />
<text x="311.40" y="436.30" font-size="7.8" text-anchor="middle" fill="#404040" >0</text>
<line x1="366.80" y1="427.00" x2="366.80" y2="424.80" stroke="#7a7a7a" stroke-width="0.8" />
<line x1="366.80" y1="251.70" x2="366.80" y2="253.90" stroke="#7a7a7a" stroke-width="0.8" />
<text x="366.80" y="436.30" font-size="7.8" text-anchor="middle" fill="#404040" >5</text>
<line x1="422.20" y1="427.00" x2="422.20" y2="424.80" stroke="#7a7a7a" stroke-width="0.8" />
<line x1="422.20" y1="251.70" x2="422.20" y2="253.90" stroke="#7a7a7a" stroke-width="0.8" />
<text x="422.20" y="436.30" font-size="7.8" text-anchor="middle" fill="#404040" >10</text>
<line x1="477.60" y1="427.00" x2="477.60" y2="424.80" stroke="#7a7a7a" stroke-width="0.8" />
<line x1="477.60" y1="251.70" x2="477.60" y2="253.90" stroke="#7a7a7a" stroke-width="0.8" />
<text x="477.60" y="436.30" font-size="7.8" text-anchor="middle" fill="#404040" >15</text>
<line x1="533.00" y1="427.00" x2="533.00" y2="424.80" stroke="#7a7a7a" stroke-width="0.8" />
<line x1="533.00" y1="251.70" x2="533.00" y2="253.90" stroke="#7a7a7a" stroke-width="0.8" />
<text x="533.00" y="436.30" font-size="7.8" text-anchor="middle" fill="#404040" >20</text>
<path d="M311.40 254.00L322.48 301.80L333.56 315.60L344.64 315.60L355.72 315.60L366.80 339.00L377.88 339.00L388.96 339.00L400.04 339.00L411.12 339.00L422.20 339.00L433.28 339.00L444.36 339.00L455.44 339.00L466.52 339.00L477.60 339.00L488.68 339.00L499.76 339.00L510.84 339.00L521.92 339.00L533.00 339.00" stroke="#1a1aff" stroke-width="1.1" fill="none" stroke-dasharray="1.4 0.7" clip-path="url(#c4)"/>
<path d="M309.95 252.55L312.85 255.45M309.95 255.45L312.85 252.55" stroke="#1a1aff" stroke-width="1.1" fill="none"/>
<path d="M321.03 300.35L323.93 303.25M321.03 303.25L323.93 300.35" stroke="#1a1aff" stroke-width="1.1" fill="none"/>
<path d="M332.11 314.15L335.01 317.05M332.11 317.05L335.01 314.15" stroke="#1a1aff" stroke-width="1.1" fill="none"/>
<path d="M343.19 314.15L346.09 317.05M343.19 317.05L346.09 314.15" stroke="#1a1aff" stroke-width="1.1" fill="none"/>
<path d="M354.27 314.15L357.17 317.05M354.27 317.05L357.17 314.15" stroke="#1a1aff" stroke-width="1.1" fill="none"/>
<path d="M365.35 337.55L368.25 340.45M365.35 340.45L368.25 337.55" stroke="#1a1aff" stroke-width="1.1" fill="none"/>
<path d="M376.43 337.55L379.33 340.45M376.43 340.45L379.33 337.55" stroke="#1a1aff" stroke-width="1.1" fill="none"/>
<path d="M387.51 337.55L390.41 340.45M387.51 340.45L390.41 337.55" stroke="#1a1aff" stroke-width="1.1" fill="none"/>
<path d="M398.59 337.55L401.49 340.45M398.59 340.45L401.49 337.55" stroke="#1a1aff" stroke-width="1.1" fill="none"/>
<path d="M409.67 337.55L412.57 340.45M409.67 340.45L412.57 337.55" stroke="#1a1aff" stroke-width="1.1" fill="none"/>
<path d="M420.75 337.55L423.65 340.45M420.75 340.45L423.65 337.55" stroke="#1a1aff" stroke-width="1.1" fill="none"/>
<path d="M431.83 337.55L434.73 340.45M431.83 340.45L434.73 337.55" stroke="#1a1aff" stroke-width="1.1" fill="none"/>
<path d="M442.91 337.55L445.81 340.45M442.91 340.45L445.81 337.55" stroke="#1a1aff" stroke-width="1.1" fill="none"/>
<path d="M453.99 337.55L456.89 340.45M453.99 340.45L456.89 337.55" stroke="#1a1aff" stroke-width="1.1" fill="none"/>
<path d="M465.07 337.55L467.97 340.45M465.07 340.45L467.97 337.55" stroke="#1a1aff" stroke-width="1.1" fill="none"/>
<path d="M476.15 337.55L479.05 340.45M476.15 340.45L479.05 337.55" stroke="#1a1aff" stroke-width="1.1" fill="none"/>
<path d="M487.23 337.55L490.13 340.45M487.23 340.45L490.13 337.55" stroke="#1a1aff" stroke-width="1.1" fill="none"/>
<path d="M498.31 337.55L501.21 340.45M498.31 340.45L501.21 337.55" stroke="#1a1aff" stroke-width="1.1" fill="none"/>
<path d="M509.39 337.55L512.29 340.45M509.39 340.45L512.29 337.55" stroke="#1a1aff" stroke-width="1.1" fill="none"/>
<path d="M520.47 337.55L523.37 340.45M520.47 340.45L523.37 337.55" stroke="#1a1aff" stroke-width="1.1" fill="none"/>
<path d="M531.55 337.55L534.45 340.45M531.55 340.45L534.45 337.55" stroke="#1a1aff" stroke-width="1.1" fill="none"/>
<path d="M311.40 255.50L322.48 305.20L333.56 326.00L344.64 332.60L355.72 333.60L366.80 349.20L377.88 353.20L388.96 355.50L400.04 361.00L411.12 372.50L422.20 381.40L433.28 388.00L444.36 388.70L455.44 392.40L466.52 397.30L477.60 407.10L488.68 407.90L499.76 412.00L510.84 419.40L521.92 420.60L533.00 421.90" stroke="#ff2020" stroke-width="1.1" fill="none" stroke-dasharray="1.4 0.7" clip-path="url(#c4)"/>
<path d="M309.95 254.05L312.85 256.95M309.95 256.95L312.85 254.05" stroke="#ff2020" stroke-width="1.1" fill="none"/>
<path d="M321.03 303.75L323.93 306.65M321.03 306.65L323.93 303.75" stroke="#ff2020" stroke-width="1.1" fill="none"/>
<path d="M332.11 324.55L335.01 327.45M332.11 327.45L335.01 324.55" stroke="#ff2020" stroke-width="1.1" fill="none"/>
<path d="M343.19 331.15L346.09 334.05M343.19 334.05L346.09 331.15" stroke="#ff2020" stroke-width="1.1" fill="none"/>
<path d="M354.27 332.15L357.17 335.05M354.27 335.05L357.17 332.15" stroke="#ff2020" stroke-width="1.1" fill="none"/>
<path d="M365.35 347.75L368.25 350.65M365.35 350.65L368.25 347.75" stroke="#ff2020" stroke-width="1.1" fill="none"/>
<path d="M376.43 351.75L379.33 354.65M376.43 354.65L379.33 351.75" stroke="#ff2020" stroke-width="1.1" fill="none"/>
<path d="M387.51 354.05L390.41 356.95M387.51 356.95L390.41 354.05" stroke="#ff2020" stroke-width="1.1" fill="none"/>
<path d="M398.59 359.55L401.49 362.45M398.59 362.45L401.49 359.55" stroke="#ff2020" stroke-width="1.1" fill="none"/>
<path d="M409.67 371.05L412.57 373.95M409.67 373.95L412.57 371.05" stroke="#ff2020" stroke-width="1.1" fill="none"/>
<path d="M420.75 379.95L423.65 382.85M420.75 382.85L423.65 379.95" stroke="#ff2020" stroke-width="1.1" fill="none"/>
<path d="M431.83 386.55L434.73 389.45M431.83 389.45L434.73 386.55" stroke="#ff2020" stroke-width="1.1" fill="none"/>
<path d="M442.91 387.25L445.81 390.15M442.91 390.15L445.81 387.25" stroke="#ff2020" stroke-width="1.1" fill="none"/>
<path d="M453.99 390.95L456.89 393.85M453.99 393.85L456.89 390.95" stroke="#ff2020" stroke-width="1.1" fill="none"/>
<path d="M465.07 395.85L467.97 398.75M465.07 398.75L467.97 395.85" stroke="#ff2020" stroke-width="1.1" fill="none"/>
<path d="M476.15 405.65L479.05 408.55M476.15 408.55L479.05 405.65" stroke="#ff2020" stroke-width="1.1" fill="none"/>
<path d="M487.23 406.45L490.13 409.35M487.23 409.35L490.13 406.45" stroke="#ff2020" stroke-width="1.1" fill="none"/>
<path d="M498.31 410.55L501.21 413.45M498.31 413.45L501.21 410.55" stroke="#ff2020" stroke-width="1.1" fill="none"/>
<path d="M509.39 417.95L512.29 420.85M509.39 420.85L512.29 417.95" stroke="#ff2020" stroke-width="1.1" fill="none"/>
<path d="M520.47 419.15L523.37 422.05M520.47 422.05L523.37 419.15" stroke="#ff2020" stroke-width="1.1" fill="none"/>
<path d="M531.55 420.45L534.45 423.35M531.55 423.35L534.45 420.45" stroke="#ff2020" stroke-width="1.1" fill="none"/>
<path d="M311.40 251.60L322.48 286.50L333.56 320.80L344.64 323.60L355.72 328.40L366.80 342.10L377.88 344.90L388.96 344.90L400.04 348.00L411.12 351.40L422.20 355.60L433.28 362.20L444.36 370.30L455.44 377.20L466.52 393.60L477.60 405.90L488.68 418.20L499.76 423.10L510.84 423.80L521.92 426.00L533.00 427.30" stroke="#ff20ff" stroke-width="1.1" fill="none" stroke-dasharray="1.4 0.7" clip-path="url(#c4)"/>
<path d="M309.10 251.60H313.70M311.40 248.95V254.25" stroke="#ff20ff" stroke-width="1.0" fill="none"/>
<path d="M310.36 250.56L312.44 252.63M310.36 252.63L312.44 250.56" stroke="#ff20ff" stroke-width="0.8" fill="none"/>
<path d="M320.18 286.50H324.78M322.48 283.86V289.14" stroke="#ff20ff" stroke-width="1.0" fill="none"/>
<path d="M321.44 285.46L323.51 287.54M321.44 287.54L323.51 285.46" stroke="#ff20ff" stroke-width="0.8" fill="none"/>
<path d="M331.26 320.80H335.86M333.56 318.16V323.44" stroke="#ff20ff" stroke-width="1.0" fill="none"/>
<path d="M332.52 319.76L334.60 321.84M332.52 321.84L334.60 319.76" stroke="#ff20ff" stroke-width="0.8" fill="none"/>
<path d="M342.34 323.60H346.94M344.64 320.96V326.25" stroke="#ff20ff" stroke-width="1.0" fill="none"/>
<path d="M343.60 322.56L345.68 324.64M343.60 324.64L345.68 322.56" stroke="#ff20ff" stroke-width="0.8" fill="none"/>
<path d="M353.42 328.40H358.02M355.72 325.75V331.04" stroke="#ff20ff" stroke-width="1.0" fill="none"/>
<path d="M354.68 327.36L356.75 329.44M354.68 329.44L356.75 327.36" stroke="#ff20ff" stroke-width="0.8" fill="none"/>
<path d="M364.50 342.10H369.10M366.80 339.46V344.75" stroke="#ff20ff" stroke-width="1.0" fill="none"/>
<path d="M365.76 341.06L367.83 343.14M365.76 343.14L367.83 341.06" stroke="#ff20ff" stroke-width="0.8" fill="none"/>
<path d="M375.58 344.90H380.18M377.88 342.25V347.54" stroke="#ff20ff" stroke-width="1.0" fill="none"/>
<path d="M376.84 343.86L378.92 345.94M376.84 345.94L378.92 343.86" stroke="#ff20ff" stroke-width="0.8" fill="none"/>
<path d="M386.66 344.90H391.26M388.96 342.25V347.54" stroke="#ff20ff" stroke-width="1.0" fill="none"/>
<path d="M387.92 343.86L390.00 345.94M387.92 345.94L390.00 343.86" stroke="#ff20ff" stroke-width="0.8" fill="none"/>
<path d="M397.74 348.00H402.34M400.04 345.36V350.64" stroke="#ff20ff" stroke-width="1.0" fill="none"/>
<path d="M399.00 346.96L401.07 349.04M399.00 349.04L401.07 346.96" stroke="#ff20ff" stroke-width="0.8" fill="none"/>
<path d="M408.82 351.40H413.42M411.12 348.75V354.04" stroke="#ff20ff" stroke-width="1.0" fill="none"/>
<path d="M410.08 350.36L412.16 352.44M410.08 352.44L412.16 350.36" stroke="#ff20ff" stroke-width="0.8" fill="none"/>
<path d="M419.90 355.60H424.50M422.20 352.96V358.25" stroke="#ff20ff" stroke-width="1.0" fill="none"/>
<path d="M421.16 354.56L423.24 356.64M421.16 356.64L423.24 354.56" stroke="#ff20ff" stroke-width="0.8" fill="none"/>
<path d="M430.98 362.20H435.58M433.28 359.56V364.84" stroke="#ff20ff" stroke-width="1.0" fill="none"/>
<path d="M432.24 361.16L434.31 363.24M432.24 363.24L434.31 361.16" stroke="#ff20ff" stroke-width="0.8" fill="none"/>
<path d="M442.06 370.30H446.66M444.36 367.66V372.94" stroke="#ff20ff" stroke-width="1.0" fill="none"/>
<path d="M443.32 369.26L445.40 371.34M443.32 371.34L445.40 369.26" stroke="#ff20ff" stroke-width="0.8" fill="none"/>
<path d="M453.14 377.20H457.74M455.44 374.56V379.84" stroke="#ff20ff" stroke-width="1.0" fill="none"/>
<path d="M454.40 376.16L456.48 378.24M454.40 378.24L456.48 376.16" stroke="#ff20ff" stroke-width="0.8" fill="none"/>
<path d="M464.22 393.60H468.82M466.52 390.96V396.25" stroke="#ff20ff" stroke-width="1.0" fill="none"/>
<path d="M465.48 392.56L467.56 394.64M465.48 394.64L467.56 392.56" stroke="#ff20ff" stroke-width="0.8" fill="none"/>
<path d="M475.30 405.90H479.90M477.60 403.25V408.54" stroke="#ff20ff" stroke-width="1.0" fill="none"/>
<path d="M476.56 404.86L478.64 406.94M476.56 406.94L478.64 404.86" stroke="#ff20ff" stroke-width="0.8" fill="none"/>
<path d="M486.38 418.20H490.98M488.68 415.56V420.84" stroke="#ff20ff" stroke-width="1.0" fill="none"/>
<path d="M487.64 417.16L489.72 419.24M487.64 419.24L489.72 417.16" stroke="#ff20ff" stroke-width="0.8" fill="none"/>
<path d="M497.46 423.10H502.06M499.76 420.46V425.75" stroke="#ff20ff" stroke-width="1.0" fill="none"/>
<path d="M498.72 422.06L500.80 424.14M498.72 424.14L500.80 422.06" stroke="#ff20ff" stroke-width="0.8" fill="none"/>
<path d="M508.54 423.80H513.14M510.84 421.16V426.44" stroke="#ff20ff" stroke-width="1.0" fill="none"/>
<path d="M509.80 422.76L511.88 424.84M509.80 424.84L511.88 422.76" stroke="#ff20ff" stroke-width="0.8" fill="none"/>
<path d="M519.62 426.00H524.22M521.92 423.36V428.64" stroke="#ff20ff" stroke-width="1.0" fill="none"/>
<path d="M520.89 424.96L522.96 427.04M520.89 427.04L522.96 424.96" stroke="#ff20ff" stroke-width="0.8" fill="none"/>
<path d="M530.70 427.30H535.30M533.00 424.66V429.94" stroke="#ff20ff" stroke-width="1.0" fill="none"/>
<path d="M531.97 426.26L534.03 428.34M531.97 428.34L534.03 426.26" stroke="#ff20ff" stroke-width="0.8" fill="none"/>
<rect x="479.20" y="257.00" width="48.20" height="25.30" fill="#fff" stroke="#7a7a7a" stroke-width="0.8"/>
<line x1="480.20" y1="261.55" x2="502.20" y2="261.55" stroke="#1a1aff" stroke-width="1.4" stroke-dasharray="1.2 0.8"/>
<path d="M490.60 260.05L493.60 263.05M490.60 263.05L493.60 260.05" stroke="#1a1aff" stroke-width="1.3" fill="none"/>
<text x="503.00" y="263.85" font-size="6.3" text-anchor="start" fill="#333" textLength="15.3" lengthAdjust="spacingAndGlyphs">PPSO</text>
<line x1="480.20" y1="269.90" x2="502.20" y2="269.90" stroke="#ff2020" stroke-width="1.4" stroke-dasharray="1.2 0.8"/>
<path d="M490.60 268.40L493.60 271.40M490.60 271.40L493.60 268.40" stroke="#ff2020" stroke-width="1.3" fill="none"/>
<text x="503.00" y="272.20" font-size="6.3" text-anchor="start" fill="#333" textLength="21.4" lengthAdjust="spacingAndGlyphs">ICPPSO</text>
<line x1="480.20" y1="277.87" x2="502.20" y2="277.87" stroke="#ff20ff" stroke-width="1.4" stroke-dasharray="1.2 0.8"/>
<path d="M489.90 277.87H494.30M492.10 275.34V280.40" stroke="#ff20ff" stroke-width="1.0" fill="none"/>
<path d="M491.11 276.88L493.09 278.86M491.11 278.86L493.09 276.88" stroke="#ff20ff" stroke-width="0.8" fill="none"/>
<text x="503.00" y="280.17" font-size="6.3" text-anchor="start" fill="#333" textLength="20.5" lengthAdjust="spacingAndGlyphs">FMPSO</text>
<text x="350.30" y="445.70" font-size="7.6" text-anchor="start" fill="#404040" textLength="144.3" lengthAdjust="spacing">(function f4)&#160;&#160;&#160;Number of Iterationsx50</text>
<text transform="translate(292.90,339.00) rotate(-90)" font-size="7.7" text-anchor="middle" fill="#404040" textLength="59.6" lengthAdjust="spacing">Gbest Fitnesses</text>
<text x="312.00" y="250.20" font-size="7.5" text-anchor="start" fill="#404040" ><tspan font-size="6.5">&#215;</tspan><tspan dx="1.4">10</tspan><tspan font-size="6" dy="-3.5" dx="-0.1">4</tspan></text>
<text x="280.00" y="469.15" style="font-family:&quot;Liberation Serif&quot;,serif;font-weight:bold" font-size="10.2" fill="#111">(d)</text>
<clipPath id="c5"><rect x="36.40" y="480.40" width="225.80" height="179.00"/></clipPath>
<rect x="36.40" y="480.40" width="225.80" height="179.00" fill="none" stroke="#7a7a7a" stroke-width="1"/>
<line x1="36.40" y1="654.52" x2="38.60" y2="654.52" stroke="#7a7a7a" stroke-width="0.8" />
<line x1="262.20" y1="654.52" x2="260.00" y2="654.52" stroke="#7a7a7a" stroke-width="0.8" />
<text x="32.70" y="657.62" font-size="7.8" text-anchor="end" fill="#404040" >400</text>
<line x1="36.40" y1="609.20" x2="38.60" y2="609.20" stroke="#7a7a7a" stroke-width="0.8" />
<line x1="262.20" y1="609.20" x2="260.00" y2="609.20" stroke="#7a7a7a" stroke-width="0.8" />
<text x="32.70" y="612.30" font-size="7.8" text-anchor="end" fill="#404040" >450</text>
<line x1="36.40" y1="568.65" x2="38.60" y2="568.65" stroke="#7a7a7a" stroke-width="0.8" />
<line x1="262.20" y1="568.65" x2="260.00" y2="568.65" stroke="#7a7a7a" stroke-width="0.8" />
<text x="32.70" y="571.75" font-size="7.8" text-anchor="end" fill="#404040" >500</text>
<line x1="36.40" y1="531.98" x2="38.60" y2="531.98" stroke="#7a7a7a" stroke-width="0.8" />
<line x1="262.20" y1="531.98" x2="260.00" y2="531.98" stroke="#7a7a7a" stroke-width="0.8" />
<text x="32.70" y="535.08" font-size="7.8" text-anchor="end" fill="#404040" >550</text>
<line x1="36.40" y1="498.50" x2="38.60" y2="498.50" stroke="#7a7a7a" stroke-width="0.8" />
<line x1="262.20" y1="498.50" x2="260.00" y2="498.50" stroke="#7a7a7a" stroke-width="0.8" />
<text x="32.70" y="501.60" font-size="7.8" text-anchor="end" fill="#404040" >600</text>
<line x1="36.40" y1="654.52" x2="37.70" y2="654.52" stroke="#7a7a7a" stroke-width="0.7" />
<line x1="262.20" y1="654.52" x2="260.90" y2="654.52" stroke="#7a7a7a" stroke-width="0.7" />
<line x1="36.40" y1="645.02" x2="37.70" y2="645.02" stroke="#7a7a7a" stroke-width="0.7" />
<line x1="262.20" y1="645.02" x2="260.90" y2="645.02" stroke="#7a7a7a" stroke-width="0.7" />
<line x1="36.40" y1="635.74" x2="37.70" y2="635.74" stroke="#7a7a7a" stroke-width="0.7" />
<line x1="262.20" y1="635.74" x2="260.90" y2="635.74" stroke="#7a7a7a" stroke-width="0.7" />
<line x1="36.40" y1="626.69" x2="37.70" y2="626.69" stroke="#7a7a7a" stroke-width="0.7" />
<line x1="262.20" y1="626.69" x2="260.90" y2="626.69" stroke="#7a7a7a" stroke-width="0.7" />
<line x1="36.40" y1="617.84" x2="37.70" y2="617.84" stroke="#7a7a7a" stroke-width="0.7" />
<line x1="262.20" y1="617.84" x2="260.90" y2="617.84" stroke="#7a7a7a" stroke-width="0.7" />
<line x1="36.40" y1="609.20" x2="37.70" y2="609.20" stroke="#7a7a7a" stroke-width="0.7" />
<line x1="262.20" y1="609.20" x2="260.90" y2="609.20" stroke="#7a7a7a" stroke-width="0.7" />
<line x1="36.40" y1="600.74" x2="37.70" y2="600.74" stroke="#7a7a7a" stroke-width="0.7" />
<line x1="262.20" y1="600.74" x2="260.90" y2="600.74" stroke="#7a7a7a" stroke-width="0.7" />
<line x1="36.40" y1="592.46" x2="37.70" y2="592.46" stroke="#7a7a7a" stroke-width="0.7" />
<line x1="262.20" y1="592.46" x2="260.90" y2="592.46" stroke="#7a7a7a" stroke-width="0.7" />
<line x1="36.40" y1="584.36" x2="37.70" y2="584.36" stroke="#7a7a7a" stroke-width="0.7" />
<line x1="262.20" y1="584.36" x2="260.90" y2="584.36" stroke="#7a7a7a" stroke-width="0.7" />
<line x1="36.40" y1="576.43" x2="37.70" y2="576.43" stroke="#7a7a7a" stroke-width="0.7" />
<line x1="262.20" y1="576.43" x2="260.90" y2="576.43" stroke="#7a7a7a" stroke-width="0.7" />
<line x1="36.40" y1="568.65" x2="37.70" y2="568.65" stroke="#7a7a7a" stroke-width="0.7" />
<line x1="262.20" y1="568.65" x2="260.90" y2="568.65" stroke="#7a7a7a" stroke-width="0.7" />
<line x1="36.40" y1="561.03" x2="37.70" y2="561.03" stroke="#7a7a7a" stroke-width="0.7" />
<line x1="262.20" y1="561.03" x2="260.90" y2="561.03" stroke="#7a7a7a" stroke-width="0.7" />
<line x1="36.40" y1="553.56" x2="37.70" y2="553.56" stroke="#7a7a7a" stroke-width="0.7" />
<line x1="262.20" y1="553.56" x2="260.90" y2="553.56" stroke="#7a7a7a" stroke-width="0.7" />
<line x1="36.40" y1="546.23" x2="37.70" y2="546.23" stroke="#7a7a7a" stroke-width="0.7" />
<line x1="262.20" y1="546.23" x2="260.90" y2="546.23" stroke="#7a7a7a" stroke-width="0.7" />
<line x1="36.40" y1="539.04" x2="37.70" y2="539.04" stroke="#7a7a7a" stroke-width="0.7" />
<line x1="262.20" y1="539.04" x2="260.90" y2="539.04" stroke="#7a7a7a" stroke-width="0.7" />
<line x1="36.40" y1="531.98" x2="37.70" y2="531.98" stroke="#7a7a7a" stroke-width="0.7" />
<line x1="262.20" y1="531.98" x2="260.90" y2="531.98" stroke="#7a7a7a" stroke-width="0.7" />
<line x1="36.40" y1="525.05" x2="37.70" y2="525.05" stroke="#7a7a7a" stroke-width="0.7" />
<line x1="262.20" y1="525.05" x2="260.90" y2="525.05" stroke="#7a7a7a" stroke-width="0.7" />
<line x1="36.40" y1="518.24" x2="37.70" y2="518.24" stroke="#7a7a7a" stroke-width="0.7" />
<line x1="262.20" y1="518.24" x2="260.90" y2="518.24" stroke="#7a7a7a" stroke-width="0.7" />
<line x1="36.40" y1="511.54" x2="37.70" y2="511.54" stroke="#7a7a7a" stroke-width="0.7" />
<line x1="262.20" y1="511.54" x2="260.90" y2="511.54" stroke="#7a7a7a" stroke-width="0.7" />
<line x1="36.40" y1="504.97" x2="37.70" y2="504.97" stroke="#7a7a7a" stroke-width="0.7" />
<line x1="262.20" y1="504.97" x2="260.90" y2="504.97" stroke="#7a7a7a" stroke-width="0.7" />
<line x1="36.40" y1="498.50" x2="37.70" y2="498.50" stroke="#7a7a7a" stroke-width="0.7" />
<line x1="262.20" y1="498.50" x2="260.90" y2="498.50" stroke="#7a7a7a" stroke-width="0.7" />
<line x1="36.40" y1="492.14" x2="37.70" y2="492.14" stroke="#7a7a7a" stroke-width="0.7" />
<line x1="262.20" y1="492.14" x2="260.90" y2="492.14" stroke="#7a7a7a" stroke-width="0.7" />
<line x1="36.40" y1="485.88" x2="37.70" y2="485.88" stroke="#7a7a7a" stroke-width="0.7" />
<line x1="262.20" y1="485.88" x2="260.90" y2="485.88" stroke="#7a7a7a" stroke-width="0.7" />
<line x1="36.40" y1="659.40" x2="36.40" y2="657.20" stroke="#7a7a7a" stroke-width="0.8" />
<line x1="36.40" y1="480.40" x2="36.40" y2="482.60" stroke="#7a7a7a" stroke-width="0.8" />
<text x="36.40" y="668.70" font-size="7.8" text-anchor="middle" fill="#404040" >0</text>
<line x1="92.85" y1="659.40" x2="92.85" y2="657.20" stroke="#7a7a7a" stroke-width="0.8" />
<line x1="92.85" y1="480.40" x2="92.85" y2="482.60" stroke="#7a7a7a" stroke-width="0.8" />
<text x="92.85" y="668.70" font-size="7.8" text-anchor="middle" fill="#404040" >5</text>
<line x1="149.30" y1="659.40" x2="149.30" y2="657.20" stroke="#7a7a7a" stroke-width="0.8" />
<line x1="149.30" y1="480.40" x2="149.30" y2="482.60" stroke="#7a7a7a" stroke-width="0.8" />
<text x="149.30" y="668.70" font-size="7.8" text-anchor="middle" fill="#404040" >10</text>
<line x1="205.75" y1="659.40" x2="205.75" y2="657.20" stroke="#7a7a7a" stroke-width="0.8" />
<line x1="205.75" y1="480.40" x2="205.75" y2="482.60" stroke="#7a7a7a" stroke-width="0.8" />
<text x="205.75" y="668.70" font-size="7.8" text-anchor="middle" fill="#404040" >15</text>
<line x1="262.20" y1="659.40" x2="262.20" y2="657.20" stroke="#7a7a7a" stroke-width="0.8" />
<line x1="262.20" y1="480.40" x2="262.20" y2="482.60" stroke="#7a7a7a" stroke-width="0.8" />
<text x="262.20" y="668.70" font-size="7.8" text-anchor="middle" fill="#404040" >20</text>
<path d="M36.40 496.00L47.69 588.70L58.98 588.70L70.27 588.70L81.56 588.70L92.85 588.70L104.14 588.70L115.43 588.70L126.72 588.70L138.01 588.70L149.30 588.70L160.59 588.70L171.88 588.70L183.17 588.70L194.46 588.70L205.75 588.70L217.04 588.70L228.33 588.70L239.62 588.70L250.91 588.70L262.20 588.70" stroke="#1a1aff" stroke-width="1.5" fill="none" stroke-dasharray="1.3 0.8" clip-path="url(#c5)"/>
<path d="M34.95 494.55L37.85 497.45M34.95 497.45L37.85 494.55" stroke="#1a1aff" stroke-width="1.1" fill="none"/>
<path d="M46.24 587.25L49.14 590.15M46.24 590.15L49.14 587.25" stroke="#1a1aff" stroke-width="1.1" fill="none"/>
<path d="M57.53 587.25L60.43 590.15M57.53 590.15L60.43 587.25" stroke="#1a1aff" stroke-width="1.1" fill="none"/>
<path d="M68.82 587.25L71.72 590.15M68.82 590.15L71.72 587.25" stroke="#1a1aff" stroke-width="1.1" fill="none"/>
<path d="M80.11 587.25L83.01 590.15M80.11 590.15L83.01 587.25" stroke="#1a1aff" stroke-width="1.1" fill="none"/>
<path d="M91.40 587.25L94.30 590.15M91.40 590.15L94.30 587.25" stroke="#1a1aff" stroke-width="1.1" fill="none"/>
<path d="M102.69 587.25L105.59 590.15M102.69 590.15L105.59 587.25" stroke="#1a1aff" stroke-width="1.1" fill="none"/>
<path d="M113.98 587.25L116.88 590.15M113.98 590.15L116.88 587.25" stroke="#1a1aff" stroke-width="1.1" fill="none"/>
<path d="M125.27 587.25L128.17 590.15M125.27 590.15L128.17 587.25" stroke="#1a1aff" stroke-width="1.1" fill="none"/>
<path d="M136.56 587.25L139.46 590.15M136.56 590.15L139.46 587.25" stroke="#1a1aff" stroke-width="1.1" fill="none"/>
<path d="M147.85 587.25L150.75 590.15M147.85 590.15L150.75 587.25" stroke="#1a1aff" stroke-width="1.1" fill="none"/>
<path d="M159.14 587.25L162.04 590.15M159.14 590.15L162.04 587.25" stroke="#1a1aff" stroke-width="1.1" fill="none"/>
<path d="M170.43 587.25L173.33 590.15M170.43 590.15L173.33 587.25" stroke="#1a1aff" stroke-width="1.1" fill="none"/>
<path d="M181.72 587.25L184.62 590.15M181.72 590.15L184.62 587.25" stroke="#1a1aff" stroke-width="1.1" fill="none"/>
<path d="M193.01 587.25L195.91 590.15M193.01 590.15L195.91 587.25" stroke="#1a1aff" stroke-width="1.1" fill="none"/>
<path d="M204.30 587.25L207.20 590.15M204.30 590.15L207.20 587.25" stroke="#1a1aff" stroke-width="1.1" fill="none"/>
<path d="M215.59 587.25L218.49 590.15M215.59 590.15L218.49 587.25" stroke="#1a1aff" stroke-width="1.1" fill="none"/>
<path d="M226.88 587.25L229.78 590.15M226.88 590.15L229.78 587.25" stroke="#1a1aff" stroke-width="1.1" fill="none"/>
<path d="M238.17 587.25L241.07 590.15M238.17 590.15L241.07 587.25" stroke="#1a1aff" stroke-width="1.1" fill="none"/>
<path d="M249.46 587.25L252.36 590.15M249.46 590.15L252.36 587.25" stroke="#1a1aff" stroke-width="1.1" fill="none"/>
<path d="M260.75 587.25L263.65 590.15M260.75 590.15L263.65 587.25" stroke="#1a1aff" stroke-width="1.1" fill="none"/>
<path d="M36.40 493.50L47.69 659.40L58.98 659.40L70.27 659.40L81.56 659.40L92.85 659.40L104.14 659.40L115.43 659.40L126.72 659.40L138.01 659.40L149.30 659.40L160.59 659.40L171.88 659.40L183.17 659.40L194.46 659.40L205.75 659.40L217.04 659.40L228.33 659.40L239.62 659.40L250.91 659.40L262.20 659.40" stroke="#ff2020" stroke-width="1.5" fill="none" stroke-dasharray="1.3 0.8" clip-path="url(#c5)"/>
<path d="M34.95 492.05L37.85 494.95M34.95 494.95L37.85 492.05" stroke="#ff2020" stroke-width="1.1" fill="none"/>
<path d="M46.24 657.95L49.14 660.85M46.24 660.85L49.14 657.95" stroke="#ff2020" stroke-width="1.1" fill="none"/>
<path d="M57.53 657.95L60.43 660.85M57.53 660.85L60.43 657.95" stroke="#ff2020" stroke-width="1.1" fill="none"/>
<path d="M68.82 657.95L71.72 660.85M68.82 660.85L71.72 657.95" stroke="#ff2020" stroke-width="1.1" fill="none"/>
<path d="M80.11 657.95L83.01 660.85M80.11 660.85L83.01 657.95" stroke="#ff2020" stroke-width="1.1" fill="none"/>
<path d="M91.40 657.95L94.30 660.85M91.40 660.85L94.30 657.95" stroke="#ff2020" stroke-width="1.1" fill="none"/>
<path d="M102.69 657.95L105.59 660.85M102.69 660.85L105.59 657.95" stroke="#ff2020" stroke-width="1.1" fill="none"/>
<path d="M113.98 657.95L116.88 660.85M113.98 660.85L116.88 657.95" stroke="#ff2020" stroke-width="1.1" fill="none"/>
<path d="M125.27 657.95L128.17 660.85M125.27 660.85L128.17 657.95" stroke="#ff2020" stroke-width="1.1" fill="none"/>
<path d="M136.56 657.95L139.46 660.85M136.56 660.85L139.46 657.95" stroke="#ff2020" stroke-width="1.1" fill="none"/>
<path d="M147.85 657.95L150.75 660.85M147.85 660.85L150.75 657.95" stroke="#ff2020" stroke-width="1.1" fill="none"/>
<path d="M159.14 657.95L162.04 660.85M159.14 660.85L162.04 657.95" stroke="#ff2020" stroke-width="1.1" fill="none"/>
<path d="M170.43 657.95L173.33 660.85M170.43 660.85L173.33 657.95" stroke="#ff2020" stroke-width="1.1" fill="none"/>
<path d="M181.72 657.95L184.62 660.85M181.72 660.85L184.62 657.95" stroke="#ff2020" stroke-width="1.1" fill="none"/>
<path d="M193.01 657.95L195.91 660.85M193.01 660.85L195.91 657.95" stroke="#ff2020" stroke-width="1.1" fill="none"/>
<path d="M204.30 657.95L207.20 660.85M204.30 660.85L207.20 657.95" stroke="#ff2020" stroke-width="1.1" fill="none"/>
<path d="M215.59 657.95L218.49 660.85M215.59 660.85L218.49 657.95" stroke="#ff2020" stroke-width="1.1" fill="none"/>
<path d="M226.88 657.95L229.78 660.85M226.88 660.85L229.78 657.95" stroke="#ff2020" stroke-width="1.1" fill="none"/>
<path d="M238.17 657.95L241.07 660.85M238.17 660.85L241.07 657.95" stroke="#ff2020" stroke-width="1.1" fill="none"/>
<path d="M249.46 657.95L252.36 660.85M249.46 660.85L252.36 657.95" stroke="#ff2020" stroke-width="1.1" fill="none"/>
<path d="M260.75 657.95L263.65 660.85M260.75 660.85L263.65 657.95" stroke="#ff2020" stroke-width="1.1" fill="none"/>
<path d="M36.40 480.40L47.69 579.40L58.98 579.40L70.27 620.50L81.56 627.40L92.85 628.50L104.14 632.80L115.43 634.40L126.72 636.30L138.01 639.20L149.30 639.20L160.59 641.70L171.88 643.00L183.17 644.20L194.46 648.90L205.75 648.40L217.04 649.80L228.33 651.30L239.62 652.30L250.91 652.50L262.20 654.30" stroke="#ff20ff" stroke-width="1.5" fill="none" stroke-dasharray="1.3 0.8" clip-path="url(#c5)"/>
<path d="M34.10 480.40H38.70M36.40 477.75V483.04" stroke="#ff20ff" stroke-width="1.0" fill="none"/>
<path d="M35.37 479.36L37.43 481.44M35.37 481.44L37.43 479.36" stroke="#ff20ff" stroke-width="0.8" fill="none"/>
<path d="M45.39 579.40H49.99M47.69 576.75V582.04" stroke="#ff20ff" stroke-width="1.0" fill="none"/>
<path d="M46.66 578.37L48.72 580.43M46.66 580.43L48.72 578.37" stroke="#ff20ff" stroke-width="0.8" fill="none"/>
<path d="M56.68 579.40H61.28M58.98 576.75V582.04" stroke="#ff20ff" stroke-width="1.0" fill="none"/>
<path d="M57.95 578.37L60.01 580.43M57.95 580.43L60.01 578.37" stroke="#ff20ff" stroke-width="0.8" fill="none"/>
<path d="M67.97 620.50H72.57M70.27 617.86V623.14" stroke="#ff20ff" stroke-width="1.0" fill="none"/>
<path d="M69.23 619.47L71.30 621.53M69.23 621.53L71.30 619.47" stroke="#ff20ff" stroke-width="0.8" fill="none"/>
<path d="M79.26 627.40H83.86M81.56 624.75V630.04" stroke="#ff20ff" stroke-width="1.0" fill="none"/>
<path d="M80.53 626.37L82.59 628.43M80.53 628.43L82.59 626.37" stroke="#ff20ff" stroke-width="0.8" fill="none"/>
<path d="M90.55 628.50H95.15M92.85 625.86V631.14" stroke="#ff20ff" stroke-width="1.0" fill="none"/>
<path d="M91.81 627.47L93.88 629.53M91.81 629.53L93.88 627.47" stroke="#ff20ff" stroke-width="0.8" fill="none"/>
<path d="M101.84 632.80H106.44M104.14 630.15V635.44" stroke="#ff20ff" stroke-width="1.0" fill="none"/>
<path d="M103.10 631.76L105.17 633.83M103.10 633.83L105.17 631.76" stroke="#ff20ff" stroke-width="0.8" fill="none"/>
<path d="M113.13 634.40H117.73M115.43 631.75V637.04" stroke="#ff20ff" stroke-width="1.0" fill="none"/>
<path d="M114.40 633.37L116.47 635.43M114.40 635.43L116.47 633.37" stroke="#ff20ff" stroke-width="0.8" fill="none"/>
<path d="M124.42 636.30H129.02M126.72 633.65V638.94" stroke="#ff20ff" stroke-width="1.0" fill="none"/>
<path d="M125.69 635.26L127.75 637.33M125.69 637.33L127.75 635.26" stroke="#ff20ff" stroke-width="0.8" fill="none"/>
<path d="M135.71 639.20H140.31M138.01 636.56V641.85" stroke="#ff20ff" stroke-width="1.0" fill="none"/>
<path d="M136.97 638.17L139.04 640.24M136.97 640.24L139.04 638.17" stroke="#ff20ff" stroke-width="0.8" fill="none"/>
<path d="M147.00 639.20H151.60M149.30 636.56V641.85" stroke="#ff20ff" stroke-width="1.0" fill="none"/>
<path d="M148.27 638.17L150.34 640.24M148.27 640.24L150.34 638.17" stroke="#ff20ff" stroke-width="0.8" fill="none"/>
<path d="M158.29 641.70H162.89M160.59 639.06V644.35" stroke="#ff20ff" stroke-width="1.0" fill="none"/>
<path d="M159.55 640.67L161.62 642.74M159.55 642.74L161.62 640.67" stroke="#ff20ff" stroke-width="0.8" fill="none"/>
<path d="M169.58 643.00H174.18M171.88 640.36V645.64" stroke="#ff20ff" stroke-width="1.0" fill="none"/>
<path d="M170.84 641.97L172.91 644.03M170.84 644.03L172.91 641.97" stroke="#ff20ff" stroke-width="0.8" fill="none"/>
<path d="M180.87 644.20H185.47M183.17 641.56V646.85" stroke="#ff20ff" stroke-width="1.0" fill="none"/>
<path d="M182.13 643.17L184.20 645.24M182.13 645.24L184.20 643.17" stroke="#ff20ff" stroke-width="0.8" fill="none"/>
<path d="M192.16 648.90H196.76M194.46 646.25V651.54" stroke="#ff20ff" stroke-width="1.0" fill="none"/>
<path d="M193.43 647.87L195.50 649.93M193.43 649.93L195.50 647.87" stroke="#ff20ff" stroke-width="0.8" fill="none"/>
<path d="M203.45 648.40H208.05M205.75 645.75V651.04" stroke="#ff20ff" stroke-width="1.0" fill="none"/>
<path d="M204.71 647.37L206.78 649.43M204.71 649.43L206.78 647.37" stroke="#ff20ff" stroke-width="0.8" fill="none"/>
<path d="M214.74 649.80H219.34M217.04 647.15V652.44" stroke="#ff20ff" stroke-width="1.0" fill="none"/>
<path d="M216.00 648.76L218.07 650.83M216.00 650.83L218.07 648.76" stroke="#ff20ff" stroke-width="0.8" fill="none"/>
<path d="M226.03 651.30H230.63M228.33 648.65V653.94" stroke="#ff20ff" stroke-width="1.0" fill="none"/>
<path d="M227.30 650.26L229.37 652.33M227.30 652.33L229.37 650.26" stroke="#ff20ff" stroke-width="0.8" fill="none"/>
<path d="M237.32 652.30H241.92M239.62 649.65V654.94" stroke="#ff20ff" stroke-width="1.0" fill="none"/>
<path d="M238.58 651.26L240.65 653.33M238.58 653.33L240.65 651.26" stroke="#ff20ff" stroke-width="0.8" fill="none"/>
<path d="M248.61 652.50H253.21M250.91 649.86V655.14" stroke="#ff20ff" stroke-width="1.0" fill="none"/>
<path d="M249.88 651.47L251.94 653.53M249.88 653.53L251.94 651.47" stroke="#ff20ff" stroke-width="0.8" fill="none"/>
<path d="M259.90 654.30H264.50M262.20 651.65V656.94" stroke="#ff20ff" stroke-width="1.0" fill="none"/>
<path d="M261.16 653.26L263.24 655.33M261.16 655.33L263.24 653.26" stroke="#ff20ff" stroke-width="0.8" fill="none"/>
<rect x="207.00" y="486.00" width="49.40" height="25.50" fill="#fff" stroke="#7a7a7a" stroke-width="0.8"/>
<line x1="208.00" y1="490.59" x2="230.00" y2="490.59" stroke="#1a1aff" stroke-width="1.4" stroke-dasharray="1.2 0.8"/>
<path d="M218.40 489.09L221.40 492.09M218.40 492.09L221.40 489.09" stroke="#1a1aff" stroke-width="1.3" fill="none"/>
<text x="231.70" y="492.89" font-size="6.3" text-anchor="start" fill="#333" textLength="15.3" lengthAdjust="spacingAndGlyphs">PPSO</text>
<line x1="208.00" y1="499.00" x2="230.00" y2="499.00" stroke="#ff2020" stroke-width="1.4" stroke-dasharray="1.2 0.8"/>
<path d="M218.40 497.50L221.40 500.50M218.40 500.50L221.40 497.50" stroke="#ff2020" stroke-width="1.3" fill="none"/>
<text x="231.70" y="501.31" font-size="6.3" text-anchor="start" fill="#333" textLength="21.4" lengthAdjust="spacingAndGlyphs">ICPPSO</text>
<line x1="208.00" y1="507.04" x2="230.00" y2="507.04" stroke="#ff20ff" stroke-width="1.4" stroke-dasharray="1.2 0.8"/>
<path d="M217.70 507.04H222.10M219.90 504.51V509.57" stroke="#ff20ff" stroke-width="1.0" fill="none"/>
<path d="M218.91 506.05L220.89 508.03M218.91 508.03L220.89 506.05" stroke="#ff20ff" stroke-width="0.8" fill="none"/>
<text x="231.70" y="509.34" font-size="6.3" text-anchor="start" fill="#333" textLength="20.5" lengthAdjust="spacingAndGlyphs">FMPSO</text>
<text x="76.00" y="677.80" font-size="7.6" text-anchor="start" fill="#404040" textLength="147.5" lengthAdjust="spacing">(function f5)&#160;&#160;&#160;Number of Iterationsx50</text>
<text transform="translate(14.80,569.80) rotate(-90)" font-size="7.7" text-anchor="middle" fill="#404040" textLength="61.0" lengthAdjust="spacing">Gbest Fitnesses</text>
<text x="6.00" y="705.65" style="font-family:&quot;Liberation Serif&quot;,serif;font-weight:bold" font-size="10.2" fill="#111">(e)</text>
<clipPath id="c6"><rect x="311.80" y="484.30" width="229.90" height="182.10"/></clipPath>
<rect x="311.80" y="484.30" width="229.90" height="182.10" fill="none" stroke="#7a7a7a" stroke-width="1"/>
<line x1="311.80" y1="653.97" x2="314.00" y2="653.97" stroke="#7a7a7a" stroke-width="0.8" />
<line x1="541.70" y1="653.97" x2="539.50" y2="653.97" stroke="#7a7a7a" stroke-width="0.8" />
<text x="307.60" y="657.07" font-size="7.8" text-anchor="end" fill="#404040" >250</text>
<line x1="311.80" y1="623.96" x2="314.00" y2="623.96" stroke="#7a7a7a" stroke-width="0.8" />
<line x1="541.70" y1="623.96" x2="539.50" y2="623.96" stroke="#7a7a7a" stroke-width="0.8" />
<text x="307.60" y="627.06" font-size="7.8" text-anchor="end" fill="#404040" >300</text>
<line x1="311.80" y1="598.59" x2="314.00" y2="598.59" stroke="#7a7a7a" stroke-width="0.8" />
<line x1="541.70" y1="598.59" x2="539.50" y2="598.59" stroke="#7a7a7a" stroke-width="0.8" />
<text x="307.60" y="601.69" font-size="7.8" text-anchor="end" fill="#404040" >350</text>
<line x1="311.80" y1="576.61" x2="314.00" y2="576.61" stroke="#7a7a7a" stroke-width="0.8" />
<line x1="541.70" y1="576.61" x2="539.50" y2="576.61" stroke="#7a7a7a" stroke-width="0.8" />
<text x="307.60" y="579.71" font-size="7.8" text-anchor="end" fill="#404040" >400</text>
<line x1="311.80" y1="557.22" x2="314.00" y2="557.22" stroke="#7a7a7a" stroke-width="0.8" />
<line x1="541.70" y1="557.22" x2="539.50" y2="557.22" stroke="#7a7a7a" stroke-width="0.8" />
<text x="307.60" y="560.32" font-size="7.8" text-anchor="end" fill="#404040" >450</text>
<line x1="311.80" y1="539.88" x2="314.00" y2="539.88" stroke="#7a7a7a" stroke-width="0.8" />
<line x1="541.70" y1="539.88" x2="539.50" y2="539.88" stroke="#7a7a7a" stroke-width="0.8" />
<text x="307.60" y="542.98" font-size="7.8" text-anchor="end" fill="#404040" >500</text>
<line x1="311.80" y1="524.19" x2="314.00" y2="524.19" stroke="#7a7a7a" stroke-width="0.8" />
<line x1="541.70" y1="524.19" x2="539.50" y2="524.19" stroke="#7a7a7a" stroke-width="0.8" />
<text x="307.60" y="527.29" font-size="7.8" text-anchor="end" fill="#404040" >550</text>
<line x1="311.80" y1="509.87" x2="314.00" y2="509.87" stroke="#7a7a7a" stroke-width="0.8" />
<line x1="541.70" y1="509.87" x2="539.50" y2="509.87" stroke="#7a7a7a" stroke-width="0.8" />
<text x="307.60" y="512.97" font-size="7.8" text-anchor="end" fill="#404040" >600</text>
<line x1="311.80" y1="496.70" x2="314.00" y2="496.70" stroke="#7a7a7a" stroke-width="0.8" />
<line x1="541.70" y1="496.70" x2="539.50" y2="496.70" stroke="#7a7a7a" stroke-width="0.8" />
<text x="307.60" y="499.80" font-size="7.8" text-anchor="end" fill="#404040" >650</text>
<line x1="311.80" y1="484.50" x2="314.00" y2="484.50" stroke="#7a7a7a" stroke-width="0.8" />
<line x1="541.70" y1="484.50" x2="539.50" y2="484.50" stroke="#7a7a7a" stroke-width="0.8" />
<text x="307.60" y="487.60" font-size="7.8" text-anchor="end" fill="#404040" >700</text>
<line x1="311.80" y1="660.69" x2="313.10" y2="660.69" stroke="#7a7a7a" stroke-width="0.7" />
<line x1="541.70" y1="660.69" x2="540.40" y2="660.69" stroke="#7a7a7a" stroke-width="0.7" />
<line x1="311.80" y1="653.97" x2="313.10" y2="653.97" stroke="#7a7a7a" stroke-width="0.7" />
<line x1="541.70" y1="653.97" x2="540.40" y2="653.97" stroke="#7a7a7a" stroke-width="0.7" />
<line x1="311.80" y1="647.52" x2="313.10" y2="647.52" stroke="#7a7a7a" stroke-width="0.7" />
<line x1="541.70" y1="647.52" x2="540.40" y2="647.52" stroke="#7a7a7a" stroke-width="0.7" />
<line x1="311.80" y1="641.31" x2="313.10" y2="641.31" stroke="#7a7a7a" stroke-width="0.7" />
<line x1="541.70" y1="641.31" x2="540.40" y2="641.31" stroke="#7a7a7a" stroke-width="0.7" />
<line x1="311.80" y1="635.32" x2="313.10" y2="635.32" stroke="#7a7a7a" stroke-width="0.7" />
<line x1="541.70" y1="635.32" x2="540.40" y2="635.32" stroke="#7a7a7a" stroke-width="0.7" />
<line x1="311.80" y1="629.54" x2="313.10" y2="629.54" stroke="#7a7a7a" stroke-width="0.7" />
<line x1="541.70" y1="629.54" x2="540.40" y2="629.54" stroke="#7a7a7a" stroke-width="0.7" />
<line x1="311.80" y1="623.96" x2="313.10" y2="623.96" stroke="#7a7a7a" stroke-width="0.7" />
<line x1="541.70" y1="623.96" x2="540.40" y2="623.96" stroke="#7a7a7a" stroke-width="0.7" />
<line x1="311.80" y1="618.57" x2="313.10" y2="618.57" stroke="#7a7a7a" stroke-width="0.7" />
<line x1="541.70" y1="618.57" x2="540.40" y2="618.57" stroke="#7a7a7a" stroke-width="0.7" />
<line x1="311.80" y1="613.34" x2="313.10" y2="613.34" stroke="#7a7a7a" stroke-width="0.7" />
<line x1="541.70" y1="613.34" x2="540.40" y2="613.34" stroke="#7a7a7a" stroke-width="0.7" />
<line x1="311.80" y1="608.28" x2="313.10" y2="608.28" stroke="#7a7a7a" stroke-width="0.7" />
<line x1="541.70" y1="608.28" x2="540.40" y2="608.28" stroke="#7a7a7a" stroke-width="0.7" />
<line x1="311.80" y1="603.36" x2="313.10" y2="603.36" stroke="#7a7a7a" stroke-width="0.7" />
<line x1="541.70" y1="603.36" x2="540.40" y2="603.36" stroke="#7a7a7a" stroke-width="0.7" />
<line x1="311.80" y1="598.59" x2="313.10" y2="598.59" stroke="#7a7a7a" stroke-width="0.7" />
<line x1="541.70" y1="598.59" x2="540.40" y2="598.59" stroke="#7a7a7a" stroke-width="0.7" />
<line x1="311.80" y1="593.95" x2="313.10" y2="593.95" stroke="#7a7a7a" stroke-width="0.7" />
<line x1="541.70" y1="593.95" x2="540.40" y2="593.95" stroke="#7a7a7a" stroke-width="0.7" />
<line x1="311.80" y1="589.44" x2="313.10" y2="589.44" stroke="#7a7a7a" stroke-width="0.7" />
<line x1="541.70" y1="589.44" x2="540.40" y2="589.44" stroke="#7a7a7a" stroke-width="0.7" />
<line x1="311.80" y1="585.05" x2="313.10" y2="585.05" stroke="#7a7a7a" stroke-width="0.7" />
<line x1="541.70" y1="585.05" x2="540.40" y2="585.05" stroke="#7a7a7a" stroke-width="0.7" />
<line x1="311.80" y1="580.78" x2="313.10" y2="580.78" stroke="#7a7a7a" stroke-width="0.7" />
<line x1="541.70" y1="580.78" x2="540.40" y2="580.78" stroke="#7a7a7a" stroke-width="0.7" />
<line x1="311.80" y1="576.61" x2="313.10" y2="576.61" stroke="#7a7a7a" stroke-width="0.7" />
<line x1="541.70" y1="576.61" x2="540.40" y2="576.61" stroke="#7a7a7a" stroke-width="0.7" />
<line x1="311.80" y1="572.55" x2="313.10" y2="572.55" stroke="#7a7a7a" stroke-width="0.7" />
<line x1="541.70" y1="572.55" x2="540.40" y2="572.55" stroke="#7a7a7a" stroke-width="0.7" />
<line x1="311.80" y1="568.58" x2="313.10" y2="568.58" stroke="#7a7a7a" stroke-width="0.7" />
<line x1="541.70" y1="568.58" x2="540.40" y2="568.58" stroke="#7a7a7a" stroke-width="0.7" />
<line x1="311.80" y1="564.71" x2="313.10" y2="564.71" stroke="#7a7a7a" stroke-width="0.7" />
<line x1="541.70" y1="564.71" x2="540.40" y2="564.71" stroke="#7a7a7a" stroke-width="0.7" />
<line x1="311.80" y1="560.92" x2="313.10" y2="560.92" stroke="#7a7a7a" stroke-width="0.7" />
<line x1="541.70" y1="560.92" x2="540.40" y2="560.92" stroke="#7a7a7a" stroke-width="0.7" />
<line x1="311.80" y1="557.22" x2="313.10" y2="557.22" stroke="#7a7a7a" stroke-width="0.7" />
<line x1="541.70" y1="557.22" x2="540.40" y2="557.22" stroke="#7a7a7a" stroke-width="0.7" />
<line x1="311.80" y1="553.61" x2="313.10" y2="553.61" stroke="#7a7a7a" stroke-width="0.7" />
<line x1="541.70" y1="553.61" x2="540.40" y2="553.61" stroke="#7a7a7a" stroke-width="0.7" />
<line x1="311.80" y1="550.07" x2="313.10" y2="550.07" stroke="#7a7a7a" stroke-width="0.7" />
<line x1="541.70" y1="550.07" x2="540.40" y2="550.07" stroke="#7a7a7a" stroke-width="0.7" />
<line x1="311.80" y1="546.60" x2="313.10" y2="546.60" stroke="#7a7a7a" stroke-width="0.7" />
<line x1="541.70" y1="546.60" x2="540.40" y2="546.60" stroke="#7a7a7a" stroke-width="0.7" />
<line x1="311.80" y1="543.21" x2="313.10" y2="543.21" stroke="#7a7a7a" stroke-width="0.7" />
<line x1="541.70" y1="543.21" x2="540.40" y2="543.21" stroke="#7a7a7a" stroke-width="0.7" />
<line x1="311.80" y1="539.88" x2="313.10" y2="539.88" stroke="#7a7a7a" stroke-width="0.7" />
<line x1="541.70" y1="539.88" x2="540.40" y2="539.88" stroke="#7a7a7a" stroke-width="0.7" />
<line x1="311.80" y1="536.62" x2="313.10" y2="536.62" stroke="#7a7a7a" stroke-width="0.7" />
<line x1="541.70" y1="536.62" x2="540.40" y2="536.62" stroke="#7a7a7a" stroke-width="0.7" />
<line x1="311.80" y1="533.43" x2="313.10" y2="533.43" stroke="#7a7a7a" stroke-width="0.7" />
<line x1="541.70" y1="533.43" x2="540.40" y2="533.43" stroke="#7a7a7a" stroke-width="0.7" />
<line x1="311.80" y1="530.29" x2="313.10" y2="530.29" stroke="#7a7a7a" stroke-width="0.7" />
<line x1="541.70" y1="530.29" x2="540.40" y2="530.29" stroke="#7a7a7a" stroke-width="0.7" />
<line x1="311.80" y1="527.21" x2="313.10" y2="527.21" stroke="#7a7a7a" stroke-width="0.7" />
<line x1="541.70" y1="527.21" x2="540.40" y2="527.21" stroke="#7a7a7a" stroke-width="0.7" />
<line x1="311.80" y1="524.19" x2="313.10" y2="524.19" stroke="#7a7a7a" stroke-width="0.7" />
<line x1="541.70" y1="524.19" x2="540.40" y2="524.19" stroke="#7a7a7a" stroke-width="0.7" />
<line x1="311.80" y1="521.23" x2="313.10" y2="521.23" stroke="#7a7a7a" stroke-width="0.7" />
<line x1="541.70" y1="521.23" x2="540.40" y2="521.23" stroke="#7a7a7a" stroke-width="0.7" />
<line x1="311.80" y1="518.32" x2="313.10" y2="518.32" stroke="#7a7a7a" stroke-width="0.7" />
<line x1="541.70" y1="518.32" x2="540.40" y2="518.32" stroke="#7a7a7a" stroke-width="0.7" />
<line x1="311.80" y1="515.45" x2="313.10" y2="515.45" stroke="#7a7a7a" stroke-width="0.7" />
<line x1="541.70" y1="515.45" x2="540.40" y2="515.45" stroke="#7a7a7a" stroke-width="0.7" />
<line x1="311.80" y1="512.64" x2="313.10" y2="512.64" stroke="#7a7a7a" stroke-width="0.7" />
<line x1="541.70" y1="512.64" x2="540.40" y2="512.64" stroke="#7a7a7a" stroke-width="0.7" />
<line x1="311.80" y1="509.87" x2="313.10" y2="509.87" stroke="#7a7a7a" stroke-width="0.7" />
<line x1="541.70" y1="509.87" x2="540.40" y2="509.87" stroke="#7a7a7a" stroke-width="0.7" />
<line x1="311.80" y1="507.15" x2="313.10" y2="507.15" stroke="#7a7a7a" stroke-width="0.7" />
<line x1="541.70" y1="507.15" x2="540.40" y2="507.15" stroke="#7a7a7a" stroke-width="0.7" />
<line x1="311.80" y1="504.48" x2="313.10" y2="504.48" stroke="#7a7a7a" stroke-width="0.7" />
<line x1="541.70" y1="504.48" x2="540.40" y2="504.48" stroke="#7a7a7a" stroke-width="0.7" />
<line x1="311.80" y1="501.84" x2="313.10" y2="501.84" stroke="#7a7a7a" stroke-width="0.7" />
<line x1="541.70" y1="501.84" x2="540.40" y2="501.84" stroke="#7a7a7a" stroke-width="0.7" />
<line x1="311.80" y1="499.25" x2="313.10" y2="499.25" stroke="#7a7a7a" stroke-width="0.7" />
<line x1="541.70" y1="499.25" x2="540.40" y2="499.25" stroke="#7a7a7a" stroke-width="0.7" />
<line x1="311.80" y1="496.70" x2="313.10" y2="496.70" stroke="#7a7a7a" stroke-width="0.7" />
<line x1="541.70" y1="496.70" x2="540.40" y2="496.70" stroke="#7a7a7a" stroke-width="0.7" />
<line x1="311.80" y1="494.19" x2="313.10" y2="494.19" stroke="#7a7a7a" stroke-width="0.7" />
<line x1="541.70" y1="494.19" x2="540.40" y2="494.19" stroke="#7a7a7a" stroke-width="0.7" />
<line x1="311.80" y1="491.71" x2="313.10" y2="491.71" stroke="#7a7a7a" stroke-width="0.7" />
<line x1="541.70" y1="491.71" x2="540.40" y2="491.71" stroke="#7a7a7a" stroke-width="0.7" />
<line x1="311.80" y1="489.27" x2="313.10" y2="489.27" stroke="#7a7a7a" stroke-width="0.7" />
<line x1="541.70" y1="489.27" x2="540.40" y2="489.27" stroke="#7a7a7a" stroke-width="0.7" />
<line x1="311.80" y1="486.87" x2="313.10" y2="486.87" stroke="#7a7a7a" stroke-width="0.7" />
<line x1="541.70" y1="486.87" x2="540.40" y2="486.87" stroke="#7a7a7a" stroke-width="0.7" />
<line x1="311.80" y1="666.40" x2="311.80" y2="664.20" stroke="#7a7a7a" stroke-width="0.8" />
<line x1="311.80" y1="484.30" x2="311.80" y2="486.50" stroke="#7a7a7a" stroke-width="0.8" />
<text x="311.80" y="675.70" font-size="7.8" text-anchor="middle" fill="#404040" >0</text>
<line x1="369.28" y1="666.40" x2="369.28" y2="664.20" stroke="#7a7a7a" stroke-width="0.8" />
<line x1="369.28" y1="484.30" x2="369.28" y2="486.50" stroke="#7a7a7a" stroke-width="0.8" />
<text x="369.28" y="675.70" font-size="7.8" text-anchor="middle" fill="#404040" >5</text>
<line x1="426.75" y1="666.40" x2="426.75" y2="664.20" stroke="#7a7a7a" stroke-width="0.8" />
<line x1="426.75" y1="484.30" x2="426.75" y2="486.50" stroke="#7a7a7a" stroke-width="0.8" />
<text x="426.75" y="675.70" font-size="7.8" text-anchor="middle" fill="#404040" >10</text>
<line x1="484.23" y1="666.40" x2="484.23" y2="664.20" stroke="#7a7a7a" stroke-width="0.8" />
<line x1="484.23" y1="484.30" x2="484.23" y2="486.50" stroke="#7a7a7a" stroke-width="0.8" />
<text x="484.23" y="675.70" font-size="7.8" text-anchor="middle" fill="#404040" >15</text>
<line x1="541.70" y1="666.40" x2="541.70" y2="664.20" stroke="#7a7a7a" stroke-width="0.8" />
<line x1="541.70" y1="484.30" x2="541.70" y2="486.50" stroke="#7a7a7a" stroke-width="0.8" />
<text x="541.70" y="675.70" font-size="7.8" text-anchor="middle" fill="#404040" >20</text>
<path d="M311.80 484.50L323.30 557.30L334.79 557.30L346.29 557.30L357.78 557.30L369.28 557.30L380.77 557.30L392.26 557.30L403.76 557.30L415.25 557.30L426.75 557.30L438.25 557.30L449.74 557.30L461.24 557.30L472.73 557.30L484.23 557.30L495.72 557.30L507.22 557.30L518.71 557.30L530.21 557.30L541.70 557.30" stroke="#1a1aff" stroke-width="1.5" fill="none" stroke-dasharray="1.3 0.8" clip-path="url(#c6)"/>
<path d="M310.35 483.05L313.25 485.95M310.35 485.95L313.25 483.05" stroke="#1a1aff" stroke-width="1.1" fill="none"/>
<path d="M321.85 555.85L324.75 558.75M321.85 558.75L324.75 555.85" stroke="#1a1aff" stroke-width="1.1" fill="none"/>
<path d="M333.34 555.85L336.24 558.75M333.34 558.75L336.24 555.85" stroke="#1a1aff" stroke-width="1.1" fill="none"/>
<path d="M344.84 555.85L347.74 558.75M344.84 558.75L347.74 555.85" stroke="#1a1aff" stroke-width="1.1" fill="none"/>
<path d="M356.33 555.85L359.23 558.75M356.33 558.75L359.23 555.85" stroke="#1a1aff" stroke-width="1.1" fill="none"/>
<path d="M367.83 555.85L370.73 558.75M367.83 558.75L370.73 555.85" stroke="#1a1aff" stroke-width="1.1" fill="none"/>
<path d="M379.32 555.85L382.22 558.75M379.32 558.75L382.22 555.85" stroke="#1a1aff" stroke-width="1.1" fill="none"/>
<path d="M390.81 555.85L393.71 558.75M390.81 558.75L393.71 555.85" stroke="#1a1aff" stroke-width="1.1" fill="none"/>
<path d="M402.31 555.85L405.21 558.75M402.31 558.75L405.21 555.85" stroke="#1a1aff" stroke-width="1.1" fill="none"/>
<path d="M413.81 555.85L416.70 558.75M413.81 558.75L416.70 555.85" stroke="#1a1aff" stroke-width="1.1" fill="none"/>
<path d="M425.30 555.85L428.20 558.75M425.30 558.75L428.20 555.85" stroke="#1a1aff" stroke-width="1.1" fill="none"/>
<path d="M436.80 555.85L439.69 558.75M436.80 558.75L439.69 555.85" stroke="#1a1aff" stroke-width="1.1" fill="none"/>
<path d="M448.29 555.85L451.19 558.75M448.29 558.75L451.19 555.85" stroke="#1a1aff" stroke-width="1.1" fill="none"/>
<path d="M459.79 555.85L462.69 558.75M459.79 558.75L462.69 555.85" stroke="#1a1aff" stroke-width="1.1" fill="none"/>
<path d="M471.28 555.85L474.18 558.75M471.28 558.75L474.18 555.85" stroke="#1a1aff" stroke-width="1.1" fill="none"/>
<path d="M482.78 555.85L485.68 558.75M482.78 558.75L485.68 555.85" stroke="#1a1aff" stroke-width="1.1" fill="none"/>
<path d="M494.27 555.85L497.17 558.75M494.27 558.75L497.17 555.85" stroke="#1a1aff" stroke-width="1.1" fill="none"/>
<path d="M505.77 555.85L508.67 558.75M505.77 558.75L508.67 555.85" stroke="#1a1aff" stroke-width="1.1" fill="none"/>
<path d="M517.26 555.85L520.16 558.75M517.26 558.75L520.16 555.85" stroke="#1a1aff" stroke-width="1.1" fill="none"/>
<path d="M528.75 555.85L531.66 558.75M528.75 558.75L531.66 555.85" stroke="#1a1aff" stroke-width="1.1" fill="none"/>
<path d="M540.25 555.85L543.15 558.75M540.25 558.75L543.15 555.85" stroke="#1a1aff" stroke-width="1.1" fill="none"/>
<path d="M311.80 501.30L323.30 666.40L334.79 666.40L346.29 666.40L357.78 666.40L369.28 666.40L380.77 666.40L392.26 666.40L403.76 666.40L415.25 666.40L426.75 666.40L438.25 666.40L449.74 666.40L461.24 666.40L472.73 666.40L484.23 666.40L495.72 666.40L507.22 666.40L518.71 666.40L530.21 666.40L541.70 666.40" stroke="#ff2020" stroke-width="1.5" fill="none" stroke-dasharray="1.3 0.8" clip-path="url(#c6)"/>
<path d="M310.35 499.85L313.25 502.75M310.35 502.75L313.25 499.85" stroke="#ff2020" stroke-width="1.1" fill="none"/>
<path d="M321.85 664.95L324.75 667.85M321.85 667.85L324.75 664.95" stroke="#ff2020" stroke-width="1.1" fill="none"/>
<path d="M333.34 664.95L336.24 667.85M333.34 667.85L336.24 664.95" stroke="#ff2020" stroke-width="1.1" fill="none"/>
<path d="M344.84 664.95L347.74 667.85M344.84 667.85L347.74 664.95" stroke="#ff2020" stroke-width="1.1" fill="none"/>
<path d="M356.33 664.95L359.23 667.85M356.33 667.85L359.23 664.95" stroke="#ff2020" stroke-width="1.1" fill="none"/>
<path d="M367.83 664.95L370.73 667.85M367.83 667.85L370.73 664.95" stroke="#ff2020" stroke-width="1.1" fill="none"/>
<path d="M379.32 664.95L382.22 667.85M379.32 667.85L382.22 664.95" stroke="#ff2020" stroke-width="1.1" fill="none"/>
<path d="M390.81 664.95L393.71 667.85M390.81 667.85L393.71 664.95" stroke="#ff2020" stroke-width="1.1" fill="none"/>
<path d="M402.31 664.95L405.21 667.85M402.31 667.85L405.21 664.95" stroke="#ff2020" stroke-width="1.1" fill="none"/>
<path d="M413.81 664.95L416.70 667.85M413.81 667.85L416.70 664.95" stroke="#ff2020" stroke-width="1.1" fill="none"/>
<path d="M425.30 664.95L428.20 667.85M425.30 667.85L428.20 664.95" stroke="#ff2020" stroke-width="1.1" fill="none"/>
<path d="M436.80 664.95L439.69 667.85M436.80 667.85L439.69 664.95" stroke="#ff2020" stroke-width="1.1" fill="none"/>
<path d="M448.29 664.95L451.19 667.85M448.29 667.85L451.19 664.95" stroke="#ff2020" stroke-width="1.1" fill="none"/>
<path d="M459.79 664.95L462.69 667.85M459.79 667.85L462.69 664.95" stroke="#ff2020" stroke-width="1.1" fill="none"/>
<path d="M471.28 664.95L474.18 667.85M471.28 667.85L474.18 664.95" stroke="#ff2020" stroke-width="1.1" fill="none"/>
<path d="M482.78 664.95L485.68 667.85M482.78 667.85L485.68 664.95" stroke="#ff2020" stroke-width="1.1" fill="none"/>
<path d="M494.27 664.95L497.17 667.85M494.27 667.85L497.17 664.95" stroke="#ff2020" stroke-width="1.1" fill="none"/>
<path d="M505.77 664.95L508.67 667.85M505.77 667.85L508.67 664.95" stroke="#ff2020" stroke-width="1.1" fill="none"/>
<path d="M517.26 664.95L520.16 667.85M517.26 667.85L520.16 664.95" stroke="#ff2020" stroke-width="1.1" fill="none"/>
<path d="M528.75 664.95L531.66 667.85M528.75 667.85L531.66 664.95" stroke="#ff2020" stroke-width="1.1" fill="none"/>
<path d="M540.25 664.95L543.15 667.85M540.25 667.85L543.15 664.95" stroke="#ff2020" stroke-width="1.1" fill="none"/>
<path d="M311.80 493.30L323.30 546.70L334.79 592.00L346.29 593.40L357.78 594.10L369.28 596.50L380.77 601.20L392.26 603.80L403.76 606.90L415.25 607.40L426.75 609.80L438.25 610.80L449.74 611.80L461.24 614.80L472.73 619.80L484.23 624.00L495.72 628.80L507.22 632.10L518.71 634.70L530.21 636.60L541.70 640.80" stroke="#ff20ff" stroke-width="1.5" fill="none" stroke-dasharray="1.3 0.8" clip-path="url(#c6)"/>
<path d="M309.50 493.30H314.10M311.80 490.66V495.94" stroke="#ff20ff" stroke-width="1.0" fill="none"/>
<path d="M310.76 492.26L312.84 494.34M310.76 494.34L312.84 492.26" stroke="#ff20ff" stroke-width="0.8" fill="none"/>
<path d="M321.00 546.70H325.60M323.30 544.06V549.35" stroke="#ff20ff" stroke-width="1.0" fill="none"/>
<path d="M322.26 545.67L324.33 547.74M322.26 547.74L324.33 545.67" stroke="#ff20ff" stroke-width="0.8" fill="none"/>
<path d="M332.49 592.00H337.09M334.79 589.36V594.64" stroke="#ff20ff" stroke-width="1.0" fill="none"/>
<path d="M333.75 590.97L335.83 593.03M333.75 593.03L335.83 590.97" stroke="#ff20ff" stroke-width="0.8" fill="none"/>
<path d="M343.99 593.40H348.59M346.29 590.75V596.04" stroke="#ff20ff" stroke-width="1.0" fill="none"/>
<path d="M345.25 592.37L347.32 594.43M345.25 594.43L347.32 592.37" stroke="#ff20ff" stroke-width="0.8" fill="none"/>
<path d="M355.48 594.10H360.08M357.78 591.46V596.75" stroke="#ff20ff" stroke-width="1.0" fill="none"/>
<path d="M356.75 593.07L358.82 595.13M356.75 595.13L358.82 593.07" stroke="#ff20ff" stroke-width="0.8" fill="none"/>
<path d="M366.98 596.50H371.58M369.28 593.86V599.14" stroke="#ff20ff" stroke-width="1.0" fill="none"/>
<path d="M368.24 595.47L370.31 597.53M368.24 597.53L370.31 595.47" stroke="#ff20ff" stroke-width="0.8" fill="none"/>
<path d="M378.47 601.20H383.07M380.77 598.56V603.85" stroke="#ff20ff" stroke-width="1.0" fill="none"/>
<path d="M379.73 600.17L381.81 602.24M379.73 602.24L381.81 600.17" stroke="#ff20ff" stroke-width="0.8" fill="none"/>
<path d="M389.96 603.80H394.56M392.26 601.15V606.44" stroke="#ff20ff" stroke-width="1.0" fill="none"/>
<path d="M391.23 602.76L393.30 604.83M391.23 604.83L393.30 602.76" stroke="#ff20ff" stroke-width="0.8" fill="none"/>
<path d="M401.46 606.90H406.06M403.76 604.25V609.54" stroke="#ff20ff" stroke-width="1.0" fill="none"/>
<path d="M402.72 605.87L404.80 607.93M402.72 607.93L404.80 605.87" stroke="#ff20ff" stroke-width="0.8" fill="none"/>
<path d="M412.95 607.40H417.56M415.25 604.75V610.04" stroke="#ff20ff" stroke-width="1.0" fill="none"/>
<path d="M414.22 606.37L416.29 608.43M414.22 608.43L416.29 606.37" stroke="#ff20ff" stroke-width="0.8" fill="none"/>
<path d="M424.45 609.80H429.05M426.75 607.15V612.44" stroke="#ff20ff" stroke-width="1.0" fill="none"/>
<path d="M425.71 608.76L427.79 610.83M425.71 610.83L427.79 608.76" stroke="#ff20ff" stroke-width="0.8" fill="none"/>
<path d="M435.94 610.80H440.55M438.25 608.15V613.44" stroke="#ff20ff" stroke-width="1.0" fill="none"/>
<path d="M437.21 609.76L439.28 611.83M437.21 611.83L439.28 609.76" stroke="#ff20ff" stroke-width="0.8" fill="none"/>
<path d="M447.44 611.80H452.04M449.74 609.15V614.44" stroke="#ff20ff" stroke-width="1.0" fill="none"/>
<path d="M448.70 610.76L450.78 612.83M448.70 612.83L450.78 610.76" stroke="#ff20ff" stroke-width="0.8" fill="none"/>
<path d="M458.94 614.80H463.54M461.24 612.15V617.44" stroke="#ff20ff" stroke-width="1.0" fill="none"/>
<path d="M460.20 613.76L462.27 615.83M460.20 615.83L462.27 613.76" stroke="#ff20ff" stroke-width="0.8" fill="none"/>
<path d="M470.43 619.80H475.03M472.73 617.15V622.44" stroke="#ff20ff" stroke-width="1.0" fill="none"/>
<path d="M471.69 618.76L473.77 620.83M471.69 620.83L473.77 618.76" stroke="#ff20ff" stroke-width="0.8" fill="none"/>
<path d="M481.93 624.00H486.53M484.23 621.36V626.64" stroke="#ff20ff" stroke-width="1.0" fill="none"/>
<path d="M483.19 622.97L485.26 625.03M483.19 625.03L485.26 622.97" stroke="#ff20ff" stroke-width="0.8" fill="none"/>
<path d="M493.42 628.80H498.02M495.72 626.15V631.44" stroke="#ff20ff" stroke-width="1.0" fill="none"/>
<path d="M494.69 627.76L496.76 629.83M494.69 629.83L496.76 627.76" stroke="#ff20ff" stroke-width="0.8" fill="none"/>
<path d="M504.92 632.10H509.52M507.22 629.46V634.75" stroke="#ff20ff" stroke-width="1.0" fill="none"/>
<path d="M506.18 631.07L508.25 633.13M506.18 633.13L508.25 631.07" stroke="#ff20ff" stroke-width="0.8" fill="none"/>
<path d="M516.41 634.70H521.01M518.71 632.06V637.35" stroke="#ff20ff" stroke-width="1.0" fill="none"/>
<path d="M517.68 633.67L519.75 635.74M517.68 635.74L519.75 633.67" stroke="#ff20ff" stroke-width="0.8" fill="none"/>
<path d="M527.91 636.60H532.50M530.21 633.96V639.25" stroke="#ff20ff" stroke-width="1.0" fill="none"/>
<path d="M529.17 635.57L531.24 637.63M529.17 637.63L531.24 635.57" stroke="#ff20ff" stroke-width="0.8" fill="none"/>
<path d="M539.40 640.80H544.00M541.70 638.15V643.44" stroke="#ff20ff" stroke-width="1.0" fill="none"/>
<path d="M540.67 639.76L542.74 641.83M540.67 641.83L542.74 639.76" stroke="#ff20ff" stroke-width="0.8" fill="none"/>
<rect x="486.20" y="490.20" width="50.20" height="25.30" fill="#fff" stroke="#7a7a7a" stroke-width="0.8"/>
<line x1="487.20" y1="494.75" x2="509.20" y2="494.75" stroke="#1a1aff" stroke-width="1.4" stroke-dasharray="1.2 0.8"/>
<path d="M497.60 493.25L500.60 496.25M497.60 496.25L500.60 493.25" stroke="#1a1aff" stroke-width="1.3" fill="none"/>
<text x="510.90" y="497.05" font-size="6.3" text-anchor="start" fill="#333" textLength="15.3" lengthAdjust="spacingAndGlyphs">PPSO</text>
<line x1="487.20" y1="503.10" x2="509.20" y2="503.10" stroke="#ff2020" stroke-width="1.4" stroke-dasharray="1.2 0.8"/>
<path d="M497.60 501.60L500.60 504.60M497.60 504.60L500.60 501.60" stroke="#ff2020" stroke-width="1.3" fill="none"/>
<text x="510.90" y="505.40" font-size="6.3" text-anchor="start" fill="#333" textLength="21.4" lengthAdjust="spacingAndGlyphs">ICPPSO</text>
<line x1="487.20" y1="511.07" x2="509.20" y2="511.07" stroke="#ff20ff" stroke-width="1.4" stroke-dasharray="1.2 0.8"/>
<path d="M496.90 511.07H501.30M499.10 508.54V513.60" stroke="#ff20ff" stroke-width="1.0" fill="none"/>
<path d="M498.11 510.08L500.09 512.06M498.11 512.06L500.09 510.08" stroke="#ff20ff" stroke-width="0.8" fill="none"/>
<text x="510.90" y="513.37" font-size="6.3" text-anchor="start" fill="#333" textLength="20.5" lengthAdjust="spacingAndGlyphs">FMPSO</text>
<text x="352.50" y="685.00" font-size="7.6" text-anchor="start" fill="#404040" textLength="149.0" lengthAdjust="spacing">(function f6)&#160;&#160;&#160;Number of Iterationsx50</text>
<text transform="translate(290.90,575.00) rotate(-90)" font-size="7.7" text-anchor="middle" fill="#404040" textLength="61.0" lengthAdjust="spacing">Gbest Fitnesses</text>
<text x="280.00" y="707.55" style="font-family:&quot;Liberation Serif&quot;,serif;font-weight:bold" font-size="10.2" fill="#111">(f)</text>
</svg>
</body></html>
